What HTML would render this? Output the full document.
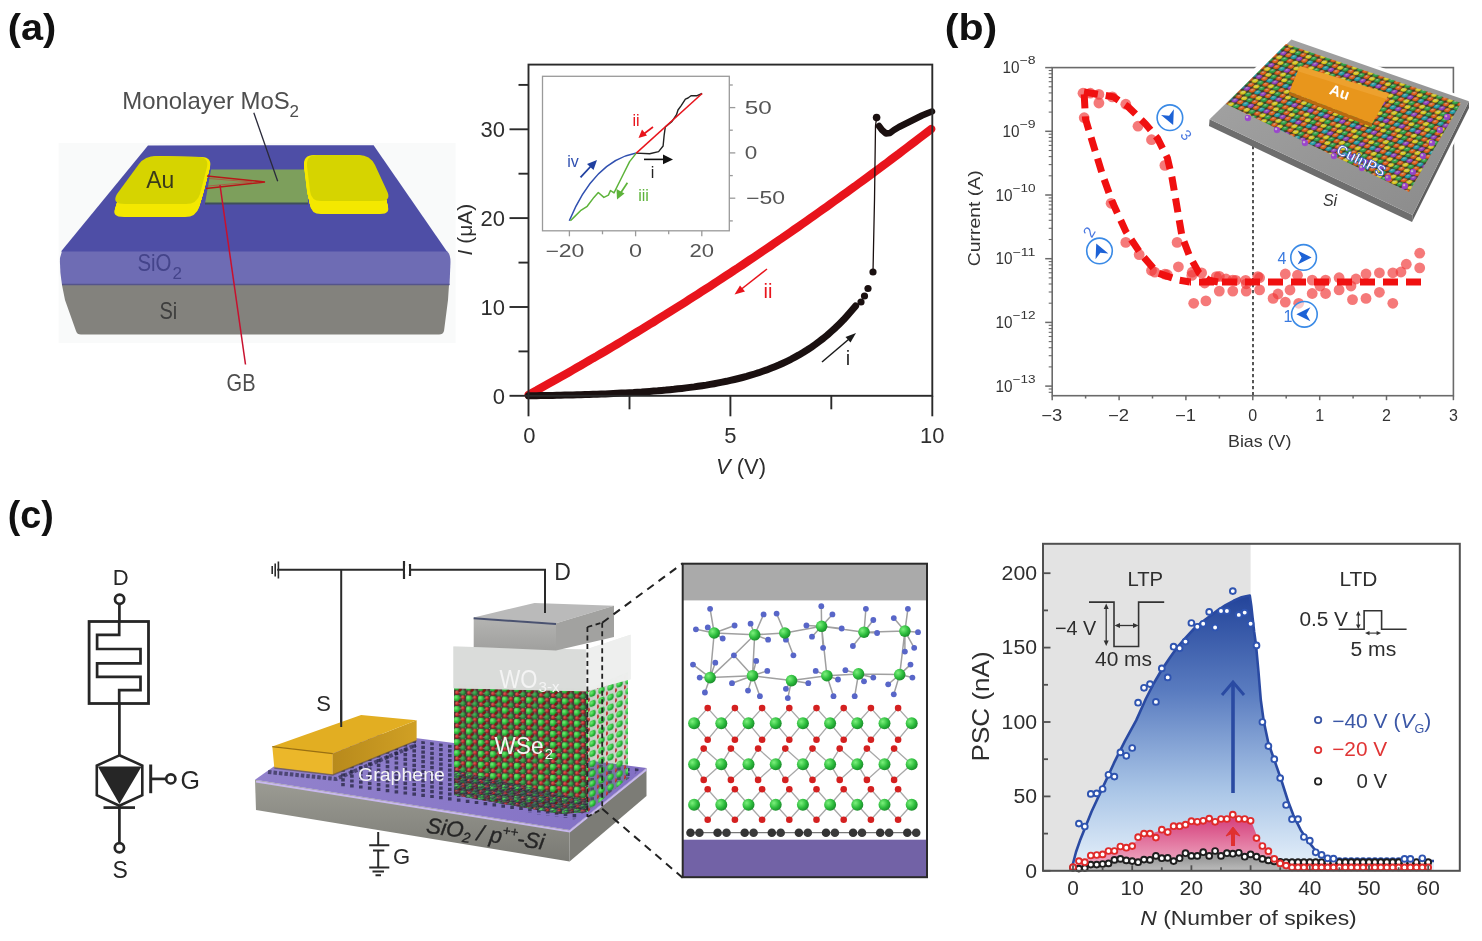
<!DOCTYPE html>
<html><head><meta charset="utf-8"><style>
html,body{margin:0;padding:0;background:#fff;}
svg{display:block;filter:blur(0.4px);}
text{font-family:"Liberation Sans",Arial,sans-serif;}
</style></head><body>
<svg width="1482" height="941" viewBox="0 0 1482 941">
<rect width="1482" height="941" fill="#fff"/>
<text x="7.8" y="40.2" font-size="37.8" fill="#111" textLength="48.5" lengthAdjust="spacingAndGlyphs" font-weight="bold" >(a)</text>
<text x="944.8" y="40.2" font-size="37.8" fill="#111" textLength="52.4" lengthAdjust="spacingAndGlyphs" font-weight="bold" >(b)</text>
<text x="7.8" y="527.5" font-size="39.6" fill="#111" textLength="46" lengthAdjust="spacingAndGlyphs" font-weight="bold" >(c)</text>
<rect x="58.6" y="143" width="397" height="200" fill="#f9fafa"/>
<path d="M62,285 L449,285 L448,300 L444,331 Q443,334.5 439,334.5 L81,334.5 Q77,334.5 76,331 L65,300 Z" fill="#83827d"/>
<path d="M62,251 L447,251 Q450.5,254 450.5,262 L449.5,285 L62,285 Q59.5,270 60,258 Z" fill="#6e6cb4"/>
<line x1="62" y1="284.5" x2="449.5" y2="284.5" stroke="#55548a" stroke-width="1.5"/>
<path d="M148,145.4 L373.6,145.2 L447,251.5 L61,251.5 Z" fill="#4e4ea6"/>
<path d="M211,169.5 L308,169.5 L308,203.5 L205,203.5 Z" fill="#7d9f5c"/>
<line x1="205" y1="203.5" x2="308" y2="203.5" stroke="#3e4e5a" stroke-width="2"/>
<path d="M156,156 L199,157 Q209,157.5 207,167 L200,194 Q197,204 186,204 L125,204 Q111,204 117,194 L139,164 Q145,156 156,156 Z" fill="#f4e800" transform="translate(3.00,0)"/>
<path d="M156,156 L199,157 Q209,157.5 207,167 L200,194 Q197,204 186,204 L125,204 Q111,204 117,194 L139,164 Q145,156 156,156 Z" fill="#f4e800" transform="translate(2.70,1)"/>
<path d="M156,156 L199,157 Q209,157.5 207,167 L200,194 Q197,204 186,204 L125,204 Q111,204 117,194 L139,164 Q145,156 156,156 Z" fill="#f4e800" transform="translate(2.40,2)"/>
<path d="M156,156 L199,157 Q209,157.5 207,167 L200,194 Q197,204 186,204 L125,204 Q111,204 117,194 L139,164 Q145,156 156,156 Z" fill="#f4e800" transform="translate(2.10,3)"/>
<path d="M156,156 L199,157 Q209,157.5 207,167 L200,194 Q197,204 186,204 L125,204 Q111,204 117,194 L139,164 Q145,156 156,156 Z" fill="#f4e800" transform="translate(1.80,4)"/>
<path d="M156,156 L199,157 Q209,157.5 207,167 L200,194 Q197,204 186,204 L125,204 Q111,204 117,194 L139,164 Q145,156 156,156 Z" fill="#f4e800" transform="translate(1.50,5)"/>
<path d="M156,156 L199,157 Q209,157.5 207,167 L200,194 Q197,204 186,204 L125,204 Q111,204 117,194 L139,164 Q145,156 156,156 Z" fill="#f4e800" transform="translate(1.20,6)"/>
<path d="M156,156 L199,157 Q209,157.5 207,167 L200,194 Q197,204 186,204 L125,204 Q111,204 117,194 L139,164 Q145,156 156,156 Z" fill="#f4e800" transform="translate(0.90,7)"/>
<path d="M156,156 L199,157 Q209,157.5 207,167 L200,194 Q197,204 186,204 L125,204 Q111,204 117,194 L139,164 Q145,156 156,156 Z" fill="#f4e800" transform="translate(0.60,8)"/>
<path d="M156,156 L199,157 Q209,157.5 207,167 L200,194 Q197,204 186,204 L125,204 Q111,204 117,194 L139,164 Q145,156 156,156 Z" fill="#f4e800" transform="translate(0.30,9)"/>
<path d="M156,156 L199,157 Q209,157.5 207,167 L200,194 Q197,204 186,204 L125,204 Q111,204 117,194 L139,164 Q145,156 156,156 Z" fill="#f4e800" transform="translate(0.00,10)"/>
<path d="M156,156 L199,157 Q209,157.5 207,167 L200,194 Q197,204 186,204 L125,204 Q111,204 117,194 L139,164 Q145,156 156,156 Z" fill="#f4e800" transform="translate(-0.30,11)"/>
<path d="M156,156 L199,157 Q209,157.5 207,167 L200,194 Q197,204 186,204 L125,204 Q111,204 117,194 L139,164 Q145,156 156,156 Z" fill="#f4e800" transform="translate(-0.60,12)"/>
<path d="M156,156 L199,157 Q209,157.5 207,167 L200,194 Q197,204 186,204 L125,204 Q111,204 117,194 L139,164 Q145,156 156,156 Z" fill="#f4e800" transform="translate(-0.90,13)"/>
<path d="M156,156 L199,157 Q209,157.5 207,167 L200,194 Q197,204 186,204 L125,204 Q111,204 117,194 L139,164 Q145,156 156,156 Z" fill="#d6d400"/>
<path d="M317,155 L359,155 Q370,155 375,165 L387,191 Q392,201 380,201 L321,201 Q311,201 310,191 L307,166 Q306,155 317,155 Z" fill="#f4e800" transform="translate(-3.00,0)"/>
<path d="M317,155 L359,155 Q370,155 375,165 L387,191 Q392,201 380,201 L321,201 Q311,201 310,191 L307,166 Q306,155 317,155 Z" fill="#f4e800" transform="translate(-2.78,1)"/>
<path d="M317,155 L359,155 Q370,155 375,165 L387,191 Q392,201 380,201 L321,201 Q311,201 310,191 L307,166 Q306,155 317,155 Z" fill="#f4e800" transform="translate(-2.56,2)"/>
<path d="M317,155 L359,155 Q370,155 375,165 L387,191 Q392,201 380,201 L321,201 Q311,201 310,191 L307,166 Q306,155 317,155 Z" fill="#f4e800" transform="translate(-2.34,3)"/>
<path d="M317,155 L359,155 Q370,155 375,165 L387,191 Q392,201 380,201 L321,201 Q311,201 310,191 L307,166 Q306,155 317,155 Z" fill="#f4e800" transform="translate(-2.12,4)"/>
<path d="M317,155 L359,155 Q370,155 375,165 L387,191 Q392,201 380,201 L321,201 Q311,201 310,191 L307,166 Q306,155 317,155 Z" fill="#f4e800" transform="translate(-1.90,5)"/>
<path d="M317,155 L359,155 Q370,155 375,165 L387,191 Q392,201 380,201 L321,201 Q311,201 310,191 L307,166 Q306,155 317,155 Z" fill="#f4e800" transform="translate(-1.68,6)"/>
<path d="M317,155 L359,155 Q370,155 375,165 L387,191 Q392,201 380,201 L321,201 Q311,201 310,191 L307,166 Q306,155 317,155 Z" fill="#f4e800" transform="translate(-1.46,7)"/>
<path d="M317,155 L359,155 Q370,155 375,165 L387,191 Q392,201 380,201 L321,201 Q311,201 310,191 L307,166 Q306,155 317,155 Z" fill="#f4e800" transform="translate(-1.24,8)"/>
<path d="M317,155 L359,155 Q370,155 375,165 L387,191 Q392,201 380,201 L321,201 Q311,201 310,191 L307,166 Q306,155 317,155 Z" fill="#f4e800" transform="translate(-1.02,9)"/>
<path d="M317,155 L359,155 Q370,155 375,165 L387,191 Q392,201 380,201 L321,201 Q311,201 310,191 L307,166 Q306,155 317,155 Z" fill="#f4e800" transform="translate(-0.80,10)"/>
<path d="M317,155 L359,155 Q370,155 375,165 L387,191 Q392,201 380,201 L321,201 Q311,201 310,191 L307,166 Q306,155 317,155 Z" fill="#f4e800" transform="translate(-0.58,11)"/>
<path d="M317,155 L359,155 Q370,155 375,165 L387,191 Q392,201 380,201 L321,201 Q311,201 310,191 L307,166 Q306,155 317,155 Z" fill="#f4e800" transform="translate(-0.36,12)"/>
<path d="M317,155 L359,155 Q370,155 375,165 L387,191 Q392,201 380,201 L321,201 Q311,201 310,191 L307,166 Q306,155 317,155 Z" fill="#f4e800" transform="translate(-0.14,13)"/>
<path d="M317,155 L359,155 Q370,155 375,165 L387,191 Q392,201 380,201 L321,201 Q311,201 310,191 L307,166 Q306,155 317,155 Z" fill="#d6d400"/>
<path d="M207,176 L265,182 L206,188.5" fill="none" stroke="#b81818" stroke-width="1.6"/>
<path d="M209,178.5 L252,182 L208,186" fill="none" stroke="#c83030" stroke-width="0.8" opacity="0.7"/>
<line x1="220" y1="185" x2="245.5" y2="364.5" stroke="#c8102e" stroke-width="1.5"/>
<line x1="253.8" y1="112.7" x2="277.7" y2="181.2" stroke="#2a2a3a" stroke-width="1.3"/>
<text x="122.3" y="108.7" font-size="24" fill="#4e4e4e" textLength="167.4" lengthAdjust="spacingAndGlyphs" >Monolayer MoS</text>
<text x="289.5" y="116.5" font-size="17" fill="#4e4e4e" >2</text>
<text x="146.2" y="188.4" font-size="23" fill="#3a3a1a" textLength="28" lengthAdjust="spacingAndGlyphs" >Au</text>
<text x="137.4" y="271.4" font-size="23.6" fill="#44448a" textLength="34" lengthAdjust="spacingAndGlyphs" >SiO</text>
<text x="172.5" y="279.0" font-size="17" fill="#44448a" >2</text>
<text x="159.5" y="319.0" font-size="23.6" fill="#3e3e3e" textLength="17.8" lengthAdjust="spacingAndGlyphs" >Si</text>
<text x="226.6" y="391.3" font-size="23.6" fill="#4e4e4e" textLength="28.9" lengthAdjust="spacingAndGlyphs" >GB</text>
<polyline points="528.5,394.8 532.5,392.6 536.6,390.4 540.6,388.1 544.6,385.9 548.6,383.7 552.7,381.4 556.7,379.1 560.7,376.9 564.8,374.6 568.8,372.3 572.8,370.0 576.8,367.7 580.9,365.4 584.9,363.0 588.9,360.7 592.9,358.3 597.0,356.0 601.0,353.6 605.0,351.3 609.1,348.9 613.1,346.5 617.1,344.1 621.1,341.7 625.2,339.2 629.2,336.8 633.2,334.4 637.3,331.9 641.3,329.5 645.3,327.0 649.3,324.5 653.4,322.1 657.4,319.6 661.4,317.1 665.5,314.6 669.5,312.0 673.5,309.5 677.5,307.0 681.6,304.4 685.6,301.9 689.6,299.3 693.6,296.8 697.7,294.2 701.7,291.6 705.7,289.0 709.8,286.4 713.8,283.8 717.8,281.1 721.8,278.5 725.9,275.8 729.9,273.2 733.9,270.5 738.0,267.9 742.0,265.2 746.0,262.5 750.0,259.8 754.1,257.1 758.1,254.4 762.1,251.6 766.2,248.9 770.2,246.2 774.2,243.4 778.2,240.6 782.3,237.9 786.3,235.1 790.3,232.3 794.3,229.5 798.4,226.7 802.4,223.9 806.4,221.1 810.5,218.2 814.5,215.4 818.5,212.5 822.5,209.7 826.6,206.8 830.6,203.9 834.6,201.0 838.7,198.1 842.7,195.2 846.7,192.3 850.7,189.4 854.8,186.5 858.8,183.5 862.8,180.6 866.9,177.6 870.9,174.6 874.9,171.7 878.9,168.7 883.0,165.7 887.0,162.7 891.0,159.6 895.0,156.6 899.1,153.6 903.1,150.5 907.1,147.5 911.2,144.4 915.2,141.4 919.2,138.3 923.2,135.2 927.3,132.1 931.3,129.0" fill="none" stroke="#e8141c" stroke-width="8.3" stroke-linecap="round"/>
<polyline points="528.5,395.8 532.5,395.7 536.6,395.7 540.6,395.6 544.7,395.5 548.7,395.5 552.7,395.4 556.8,395.3 560.8,395.2 564.8,395.1 568.9,395.0 572.9,394.9 577.0,394.8 581.0,394.7 585.0,394.6 589.1,394.5 593.1,394.3 597.1,394.2 601.2,394.0 605.2,393.9 609.3,393.7 613.3,393.5 617.3,393.3 621.4,393.1 625.4,392.9 629.5,392.7 633.5,392.5 637.5,392.2 641.6,392.0 645.6,391.7 649.6,391.4 653.7,391.1 657.7,390.8 661.8,390.4 665.8,390.1 669.8,389.7 673.9,389.3 677.9,388.8 681.9,388.4 686.0,387.9 690.0,387.4 694.1,386.9 698.1,386.3 702.1,385.7 706.2,385.1 710.2,384.4 714.2,383.7 718.3,382.9 722.3,382.1 726.4,381.3 730.4,380.4 734.4,379.5 738.5,378.5 742.5,377.5 746.6,376.4 750.6,375.2 754.6,374.0 758.7,372.7 762.7,371.3 766.7,369.9 770.8,368.3 774.8,366.7 778.9,365.0 782.9,363.2 786.9,361.3 791.0,359.3 795.0,357.1 799.0,354.9 803.1,352.5 807.1,350.0 811.2,347.3 815.2,344.5 819.2,341.5 823.3,338.4 827.3,335.1 831.3,331.5 835.4,327.8 839.4,323.9 843.5,319.8 847.5,315.4 851.5,310.8 855.6,305.9" fill="none" stroke="#1a1010" stroke-width="7" stroke-linecap="round" stroke-linejoin="round"/>
<circle cx="861" cy="302" r="3.6" fill="#1a1010"/>
<circle cx="864.5" cy="296" r="3.6" fill="#1a1010"/>
<circle cx="868" cy="288.5" r="3.6" fill="#1a1010"/>
<circle cx="873" cy="272" r="3.6" fill="#1a1010"/>
<polyline points="873,272 874.5,200 875.5,126 876.5,118" fill="none" stroke="#1a1010" stroke-width="1.3"/>
<circle cx="876.6" cy="117.6" r="3.8" fill="#1a1010"/>
<polyline points="879.0,126.0 882.0,130.0 886.0,133.5 890.0,133.0 894.0,130.0 899.0,127.0 904.0,124.5 910.0,121.5 916.0,118.5 922.0,115.5 928.0,113.0 932.0,111.5" fill="none" stroke="#1a1010" stroke-width="6.5" stroke-linecap="round" stroke-linejoin="round"/>
<rect x="528.5" y="64.6" width="403.8" height="331.2" fill="none" stroke="#2a2a2a" stroke-width="1.9"/>
<line x1="509.5" y1="395.8" x2="528.5" y2="395.8" stroke="#2a2a2a" stroke-width="1.9"/>
<text x="505.0" y="403.6" font-size="22" fill="#2e2e2e" text-anchor="end" >0</text>
<line x1="518.5" y1="351.4" x2="528.5" y2="351.4" stroke="#2a2a2a" stroke-width="1.9"/>
<line x1="509.5" y1="307.0" x2="528.5" y2="307.0" stroke="#2a2a2a" stroke-width="1.9"/>
<text x="505.0" y="314.8" font-size="22" fill="#2e2e2e" text-anchor="end" >10</text>
<line x1="518.5" y1="262.6" x2="528.5" y2="262.6" stroke="#2a2a2a" stroke-width="1.9"/>
<line x1="509.5" y1="218.1" x2="528.5" y2="218.1" stroke="#2a2a2a" stroke-width="1.9"/>
<text x="505.0" y="225.9" font-size="22" fill="#2e2e2e" text-anchor="end" >20</text>
<line x1="518.5" y1="173.7" x2="528.5" y2="173.7" stroke="#2a2a2a" stroke-width="1.9"/>
<line x1="509.5" y1="129.3" x2="528.5" y2="129.3" stroke="#2a2a2a" stroke-width="1.9"/>
<text x="505.0" y="137.1" font-size="22" fill="#2e2e2e" text-anchor="end" >30</text>
<line x1="518.5" y1="84.9" x2="528.5" y2="84.9" stroke="#2a2a2a" stroke-width="1.9"/>
<line x1="528.5" y1="395.8" x2="528.5" y2="416.3" stroke="#2a2a2a" stroke-width="1.9"/>
<text x="529.3" y="442.6" font-size="22" fill="#2e2e2e" text-anchor="middle" >0</text>
<line x1="629.5" y1="395.8" x2="629.5" y2="409.3" stroke="#2a2a2a" stroke-width="1.9"/>
<line x1="730.4" y1="395.8" x2="730.4" y2="416.3" stroke="#2a2a2a" stroke-width="1.9"/>
<text x="730.4" y="442.6" font-size="22" fill="#2e2e2e" text-anchor="middle" >5</text>
<line x1="831.3" y1="395.8" x2="831.3" y2="409.3" stroke="#2a2a2a" stroke-width="1.9"/>
<line x1="932.3" y1="395.8" x2="932.3" y2="416.3" stroke="#2a2a2a" stroke-width="1.9"/>
<text x="932.3" y="442.6" font-size="22" fill="#2e2e2e" text-anchor="middle" >10</text>
<text x="0.0" y="0.0" font-size="21" fill="#2e2e2e" text-anchor="middle" transform="translate(472,229.6) rotate(-90)"><tspan font-style="italic">I</tspan> (μA)</text>
<text x="741.0" y="474.0" font-size="22" fill="#2e2e2e" text-anchor="middle" ><tspan font-style="italic">V</tspan> (V)</text>
<line x1="822" y1="362" x2="852" y2="336.5" stroke="#1a1a1a" stroke-width="1.5"/><path d="M856,333 L845.5,337 L850.5,342.5 Z" fill="#1a1a1a"/>
<text x="848.0" y="365.0" font-size="20" fill="#2e2e2e" text-anchor="middle" >i</text>
<line x1="767" y1="269" x2="739" y2="291" stroke="#e8141c" stroke-width="1.5"/><path d="M734.5,294.5 L740,285.5 L745,291.5 Z" fill="#e8141c"/>
<text x="768.0" y="297.5" font-size="20" fill="#e8141c" text-anchor="middle" >ii</text>
<rect x="542.5" y="76.3" width="186.79999999999995" height="154.5" fill="#fff" stroke="#9a9a9a" stroke-width="1.3"/>
<line x1="569.4" y1="230.8" x2="569.4" y2="236.3" stroke="#9a9a9a" stroke-width="1.3"/>
<text x="564.9" y="256.5" font-size="17.5" fill="#555" text-anchor="middle" textLength="39" lengthAdjust="spacingAndGlyphs" >−20</text>
<line x1="602.5" y1="230.8" x2="602.5" y2="234.3" stroke="#9a9a9a" stroke-width="1.3"/>
<line x1="635.6" y1="230.8" x2="635.6" y2="236.3" stroke="#9a9a9a" stroke-width="1.3"/>
<text x="635.6" y="256.5" font-size="17.5" fill="#555" text-anchor="middle" textLength="13" lengthAdjust="spacingAndGlyphs" >0</text>
<line x1="668.7" y1="230.8" x2="668.7" y2="234.3" stroke="#9a9a9a" stroke-width="1.3"/>
<line x1="701.8" y1="230.8" x2="701.8" y2="236.3" stroke="#9a9a9a" stroke-width="1.3"/>
<text x="701.8" y="256.5" font-size="17.5" fill="#555" text-anchor="middle" textLength="24.5" lengthAdjust="spacingAndGlyphs" >20</text>
<line x1="729.3" y1="85.0" x2="732.8" y2="85.0" stroke="#9a9a9a" stroke-width="1.3"/>
<line x1="729.3" y1="107.6" x2="735.3" y2="107.6" stroke="#9a9a9a" stroke-width="1.3"/>
<text x="744.8" y="113.8" font-size="17.5" fill="#555" textLength="27" lengthAdjust="spacingAndGlyphs" >50</text>
<line x1="729.3" y1="130.2" x2="732.8" y2="130.2" stroke="#9a9a9a" stroke-width="1.3"/>
<line x1="729.3" y1="152.9" x2="735.3" y2="152.9" stroke="#9a9a9a" stroke-width="1.3"/>
<text x="744.8" y="159.1" font-size="17.5" fill="#555" textLength="12.5" lengthAdjust="spacingAndGlyphs" >0</text>
<line x1="729.3" y1="175.6" x2="732.8" y2="175.6" stroke="#9a9a9a" stroke-width="1.3"/>
<line x1="729.3" y1="198.2" x2="735.3" y2="198.2" stroke="#9a9a9a" stroke-width="1.3"/>
<text x="746.0" y="204.4" font-size="17.5" fill="#555" textLength="39" lengthAdjust="spacingAndGlyphs" >−50</text>
<line x1="729.3" y1="220.9" x2="732.8" y2="220.9" stroke="#9a9a9a" stroke-width="1.3"/>
<path d="M569.3,220.8 C580,195 600,160 636.3,153.1" fill="none" stroke="#3050b0" stroke-width="1.5"/>
<polyline points="636.3,153.1 629.6,161.6 622.9,175.0 618.4,184.0 614.0,192.9 610.5,190.5 608.4,195.1 603.9,197.4 598.3,192.5 593.9,197.4 587.2,206.3 580.5,210.7 573.8,217.4 570.4,220.8" fill="none" stroke="#5db33a" stroke-width="1.5" stroke-linejoin="round"/>
<polyline points="636.3,153.1 649.7,153.8 658.6,151.6 663.1,146.0 664.2,134.8 665.3,127.0 672.0,121.4 676.5,114.7 678.0,110.0 681.0,105.8 685.4,99.1 688.0,98.0 691.0,95.8 696.6,95.8 702.1,93.5" fill="none" stroke="#222" stroke-width="1.4" stroke-linejoin="round"/>
<line x1="636.3" y1="153.1" x2="702.1" y2="93.5" stroke="#e8141c" stroke-width="1.5"/>
<line x1="653" y1="127" x2="643" y2="134.5" stroke="#e8141c" stroke-width="1.6"/><path d="M638.5,138 L642,129.5 L647,135.5 Z" fill="#e8141c"/>
<text x="636.0" y="126.0" font-size="16" fill="#e8141c" text-anchor="middle" >ii</text>
<line x1="580.5" y1="177.3" x2="592" y2="165" stroke="#2040a0" stroke-width="1.8"/><path d="M597,160 L587,164 L593.5,170 Z" fill="#2040a0"/>
<text x="573.0" y="166.5" font-size="16" fill="#3050b0" text-anchor="middle" >iv</text>
<line x1="644" y1="159.4" x2="667" y2="159.4" stroke="#111" stroke-width="1.6"/><path d="M673,159.4 L663,154.5 L663,164.3 Z" fill="#111"/>
<text x="652.5" y="177.5" font-size="16" fill="#222" text-anchor="middle" >i</text>
<line x1="627.4" y1="182.8" x2="620" y2="194" stroke="#5db33a" stroke-width="1.7"/><path d="M617,199.6 L616.5,189 L624.5,193.5 Z" fill="#5db33a"/>
<text x="643.5" y="200.5" font-size="16" fill="#5db33a" text-anchor="middle" >iii</text>
<rect x="1052.2" y="67.6" width="401.2" height="328.1" fill="none" stroke="#6a6a6a" stroke-width="1.6"/>
<line x1="1045.2" y1="67.6" x2="1052.2" y2="67.6" stroke="#6a6a6a" stroke-width="1.5"/>
<text x="1019.5" y="73.2" font-size="16" fill="#333" text-anchor="end" textLength="17" lengthAdjust="spacingAndGlyphs" >10</text>
<text x="1019.5" y="64.4" font-size="11" fill="#333" textLength="16" lengthAdjust="spacingAndGlyphs" >−8</text>
<line x1="1045.2" y1="131.3" x2="1052.2" y2="131.3" stroke="#6a6a6a" stroke-width="1.5"/>
<line x1="1048.7" y1="112.1" x2="1052.2" y2="112.1" stroke="#6a6a6a" stroke-width="1.1"/>
<line x1="1048.7" y1="100.9" x2="1052.2" y2="100.9" stroke="#6a6a6a" stroke-width="1.1"/>
<line x1="1048.7" y1="92.9" x2="1052.2" y2="92.9" stroke="#6a6a6a" stroke-width="1.1"/>
<line x1="1048.7" y1="86.8" x2="1052.2" y2="86.8" stroke="#6a6a6a" stroke-width="1.1"/>
<line x1="1048.7" y1="81.7" x2="1052.2" y2="81.7" stroke="#6a6a6a" stroke-width="1.1"/>
<line x1="1048.7" y1="77.5" x2="1052.2" y2="77.5" stroke="#6a6a6a" stroke-width="1.1"/>
<line x1="1048.7" y1="73.8" x2="1052.2" y2="73.8" stroke="#6a6a6a" stroke-width="1.1"/>
<line x1="1048.7" y1="70.5" x2="1052.2" y2="70.5" stroke="#6a6a6a" stroke-width="1.1"/>
<text x="1019.5" y="136.9" font-size="16" fill="#333" text-anchor="end" textLength="17" lengthAdjust="spacingAndGlyphs" >10</text>
<text x="1019.5" y="128.1" font-size="11" fill="#333" textLength="16" lengthAdjust="spacingAndGlyphs" >−9</text>
<line x1="1045.2" y1="195.0" x2="1052.2" y2="195.0" stroke="#6a6a6a" stroke-width="1.5"/>
<line x1="1048.7" y1="175.8" x2="1052.2" y2="175.8" stroke="#6a6a6a" stroke-width="1.1"/>
<line x1="1048.7" y1="164.6" x2="1052.2" y2="164.6" stroke="#6a6a6a" stroke-width="1.1"/>
<line x1="1048.7" y1="156.6" x2="1052.2" y2="156.6" stroke="#6a6a6a" stroke-width="1.1"/>
<line x1="1048.7" y1="150.5" x2="1052.2" y2="150.5" stroke="#6a6a6a" stroke-width="1.1"/>
<line x1="1048.7" y1="145.4" x2="1052.2" y2="145.4" stroke="#6a6a6a" stroke-width="1.1"/>
<line x1="1048.7" y1="141.2" x2="1052.2" y2="141.2" stroke="#6a6a6a" stroke-width="1.1"/>
<line x1="1048.7" y1="137.5" x2="1052.2" y2="137.5" stroke="#6a6a6a" stroke-width="1.1"/>
<line x1="1048.7" y1="134.2" x2="1052.2" y2="134.2" stroke="#6a6a6a" stroke-width="1.1"/>
<text x="1012.5" y="200.6" font-size="16" fill="#333" text-anchor="end" textLength="17" lengthAdjust="spacingAndGlyphs" >10</text>
<text x="1012.5" y="191.8" font-size="11" fill="#333" textLength="23" lengthAdjust="spacingAndGlyphs" >−10</text>
<line x1="1045.2" y1="258.7" x2="1052.2" y2="258.7" stroke="#6a6a6a" stroke-width="1.5"/>
<line x1="1048.7" y1="239.5" x2="1052.2" y2="239.5" stroke="#6a6a6a" stroke-width="1.1"/>
<line x1="1048.7" y1="228.3" x2="1052.2" y2="228.3" stroke="#6a6a6a" stroke-width="1.1"/>
<line x1="1048.7" y1="220.3" x2="1052.2" y2="220.3" stroke="#6a6a6a" stroke-width="1.1"/>
<line x1="1048.7" y1="214.2" x2="1052.2" y2="214.2" stroke="#6a6a6a" stroke-width="1.1"/>
<line x1="1048.7" y1="209.1" x2="1052.2" y2="209.1" stroke="#6a6a6a" stroke-width="1.1"/>
<line x1="1048.7" y1="204.9" x2="1052.2" y2="204.9" stroke="#6a6a6a" stroke-width="1.1"/>
<line x1="1048.7" y1="201.2" x2="1052.2" y2="201.2" stroke="#6a6a6a" stroke-width="1.1"/>
<line x1="1048.7" y1="197.9" x2="1052.2" y2="197.9" stroke="#6a6a6a" stroke-width="1.1"/>
<text x="1012.5" y="264.3" font-size="16" fill="#333" text-anchor="end" textLength="17" lengthAdjust="spacingAndGlyphs" >10</text>
<text x="1012.5" y="255.5" font-size="11" fill="#333" textLength="23" lengthAdjust="spacingAndGlyphs" >−11</text>
<line x1="1045.2" y1="322.4" x2="1052.2" y2="322.4" stroke="#6a6a6a" stroke-width="1.5"/>
<line x1="1048.7" y1="303.2" x2="1052.2" y2="303.2" stroke="#6a6a6a" stroke-width="1.1"/>
<line x1="1048.7" y1="292.0" x2="1052.2" y2="292.0" stroke="#6a6a6a" stroke-width="1.1"/>
<line x1="1048.7" y1="284.0" x2="1052.2" y2="284.0" stroke="#6a6a6a" stroke-width="1.1"/>
<line x1="1048.7" y1="277.9" x2="1052.2" y2="277.9" stroke="#6a6a6a" stroke-width="1.1"/>
<line x1="1048.7" y1="272.8" x2="1052.2" y2="272.8" stroke="#6a6a6a" stroke-width="1.1"/>
<line x1="1048.7" y1="268.6" x2="1052.2" y2="268.6" stroke="#6a6a6a" stroke-width="1.1"/>
<line x1="1048.7" y1="264.9" x2="1052.2" y2="264.9" stroke="#6a6a6a" stroke-width="1.1"/>
<line x1="1048.7" y1="261.6" x2="1052.2" y2="261.6" stroke="#6a6a6a" stroke-width="1.1"/>
<text x="1012.5" y="328.0" font-size="16" fill="#333" text-anchor="end" textLength="17" lengthAdjust="spacingAndGlyphs" >10</text>
<text x="1012.5" y="319.2" font-size="11" fill="#333" textLength="23" lengthAdjust="spacingAndGlyphs" >−12</text>
<line x1="1045.2" y1="386.1" x2="1052.2" y2="386.1" stroke="#6a6a6a" stroke-width="1.5"/>
<line x1="1048.7" y1="366.9" x2="1052.2" y2="366.9" stroke="#6a6a6a" stroke-width="1.1"/>
<line x1="1048.7" y1="355.7" x2="1052.2" y2="355.7" stroke="#6a6a6a" stroke-width="1.1"/>
<line x1="1048.7" y1="347.7" x2="1052.2" y2="347.7" stroke="#6a6a6a" stroke-width="1.1"/>
<line x1="1048.7" y1="341.6" x2="1052.2" y2="341.6" stroke="#6a6a6a" stroke-width="1.1"/>
<line x1="1048.7" y1="336.5" x2="1052.2" y2="336.5" stroke="#6a6a6a" stroke-width="1.1"/>
<line x1="1048.7" y1="332.3" x2="1052.2" y2="332.3" stroke="#6a6a6a" stroke-width="1.1"/>
<line x1="1048.7" y1="328.6" x2="1052.2" y2="328.6" stroke="#6a6a6a" stroke-width="1.1"/>
<line x1="1048.7" y1="325.3" x2="1052.2" y2="325.3" stroke="#6a6a6a" stroke-width="1.1"/>
<text x="1012.5" y="391.7" font-size="16" fill="#333" text-anchor="end" textLength="17" lengthAdjust="spacingAndGlyphs" >10</text>
<text x="1012.5" y="382.9" font-size="11" fill="#333" textLength="23" lengthAdjust="spacingAndGlyphs" >−13</text>
<line x1="1048.7" y1="392.3" x2="1052.2" y2="392.3" stroke="#6a6a6a" stroke-width="1.1"/>
<line x1="1048.7" y1="389.0" x2="1052.2" y2="389.0" stroke="#6a6a6a" stroke-width="1.1"/>
<line x1="1052.2" y1="395.7" x2="1052.2" y2="400.2" stroke="#6a6a6a" stroke-width="1.5"/>
<text x="1051.7" y="420.8" font-size="16" fill="#333" text-anchor="middle" textLength="21" lengthAdjust="spacingAndGlyphs" >−3</text>
<line x1="1085.6" y1="395.7" x2="1085.6" y2="398.5" stroke="#6a6a6a" stroke-width="1.5"/>
<line x1="1119.1" y1="395.7" x2="1119.1" y2="400.2" stroke="#6a6a6a" stroke-width="1.5"/>
<text x="1118.6" y="420.8" font-size="16" fill="#333" text-anchor="middle" textLength="21" lengthAdjust="spacingAndGlyphs" >−2</text>
<line x1="1152.5" y1="395.7" x2="1152.5" y2="398.5" stroke="#6a6a6a" stroke-width="1.5"/>
<line x1="1185.9" y1="395.7" x2="1185.9" y2="400.2" stroke="#6a6a6a" stroke-width="1.5"/>
<text x="1185.4" y="420.8" font-size="16" fill="#333" text-anchor="middle" textLength="21" lengthAdjust="spacingAndGlyphs" >−1</text>
<line x1="1219.4" y1="395.7" x2="1219.4" y2="398.5" stroke="#6a6a6a" stroke-width="1.5"/>
<line x1="1252.8" y1="395.7" x2="1252.8" y2="400.2" stroke="#6a6a6a" stroke-width="1.5"/>
<text x="1252.8" y="420.8" font-size="16" fill="#333" text-anchor="middle" >0</text>
<line x1="1286.2" y1="395.7" x2="1286.2" y2="398.5" stroke="#6a6a6a" stroke-width="1.5"/>
<line x1="1319.7" y1="395.7" x2="1319.7" y2="400.2" stroke="#6a6a6a" stroke-width="1.5"/>
<text x="1319.7" y="420.8" font-size="16" fill="#333" text-anchor="middle" >1</text>
<line x1="1353.1" y1="395.7" x2="1353.1" y2="398.5" stroke="#6a6a6a" stroke-width="1.5"/>
<line x1="1386.5" y1="395.7" x2="1386.5" y2="400.2" stroke="#6a6a6a" stroke-width="1.5"/>
<text x="1386.5" y="420.8" font-size="16" fill="#333" text-anchor="middle" >2</text>
<line x1="1420.0" y1="395.7" x2="1420.0" y2="398.5" stroke="#6a6a6a" stroke-width="1.5"/>
<line x1="1453.4" y1="395.7" x2="1453.4" y2="400.2" stroke="#6a6a6a" stroke-width="1.5"/>
<text x="1453.4" y="420.8" font-size="16" fill="#333" text-anchor="middle" >3</text>
<text x="0.0" y="0.0" font-size="17" fill="#333" text-anchor="middle" textLength="96" lengthAdjust="spacingAndGlyphs" transform="translate(979.6,218.3) rotate(-90)">Current (A)</text>
<text x="1259.7" y="446.9" font-size="17" fill="#333" text-anchor="middle" textLength="63.4" lengthAdjust="spacingAndGlyphs" >Bias (V)</text>
<line x1="1253" y1="140" x2="1253" y2="395" stroke="#444" stroke-width="1.8" stroke-dasharray="3.2,2.8"/>
<circle cx="1083.0" cy="93.2" r="5.4" fill="#f03a3a" fill-opacity="0.68"/>
<circle cx="1090.3" cy="93.2" r="5.4" fill="#f03a3a" fill-opacity="0.68"/>
<circle cx="1098.9" cy="94.4" r="5.4" fill="#f03a3a" fill-opacity="0.68"/>
<circle cx="1112.3" cy="96.9" r="5.4" fill="#f03a3a" fill-opacity="0.68"/>
<circle cx="1125.8" cy="104.2" r="5.4" fill="#f03a3a" fill-opacity="0.68"/>
<circle cx="1098.9" cy="103.0" r="5.4" fill="#f03a3a" fill-opacity="0.68"/>
<circle cx="1084.2" cy="117.7" r="5.4" fill="#f03a3a" fill-opacity="0.68"/>
<circle cx="1138.0" cy="126.2" r="5.4" fill="#f03a3a" fill-opacity="0.68"/>
<circle cx="1151.5" cy="139.7" r="5.4" fill="#f03a3a" fill-opacity="0.68"/>
<circle cx="1164.9" cy="165.4" r="5.4" fill="#f03a3a" fill-opacity="0.68"/>
<circle cx="1111.1" cy="203.3" r="5.4" fill="#f03a3a" fill-opacity="0.68"/>
<circle cx="1125.8" cy="242.4" r="5.4" fill="#f03a3a" fill-opacity="0.68"/>
<circle cx="1139.2" cy="254.6" r="5.4" fill="#f03a3a" fill-opacity="0.68"/>
<circle cx="1151.5" cy="270.5" r="5.4" fill="#f03a3a" fill-opacity="0.68"/>
<circle cx="1164.9" cy="274.2" r="5.4" fill="#f03a3a" fill-opacity="0.68"/>
<circle cx="1178.4" cy="266.8" r="5.4" fill="#f03a3a" fill-opacity="0.68"/>
<circle cx="1177.1" cy="242.4" r="5.4" fill="#f03a3a" fill-opacity="0.68"/>
<circle cx="1191.8" cy="275.4" r="5.4" fill="#f03a3a" fill-opacity="0.68"/>
<circle cx="1201.6" cy="272.9" r="5.4" fill="#f03a3a" fill-opacity="0.68"/>
<circle cx="1216.3" cy="276.6" r="5.4" fill="#f03a3a" fill-opacity="0.68"/>
<circle cx="1226.0" cy="279.0" r="5.4" fill="#f03a3a" fill-opacity="0.68"/>
<circle cx="1235.8" cy="280.3" r="5.4" fill="#f03a3a" fill-opacity="0.68"/>
<circle cx="1245.6" cy="280.3" r="5.4" fill="#f03a3a" fill-opacity="0.68"/>
<circle cx="1257.8" cy="276.6" r="5.4" fill="#f03a3a" fill-opacity="0.68"/>
<circle cx="1193.7" cy="303.3" r="5.4" fill="#f03a3a" fill-opacity="0.68"/>
<circle cx="1205.9" cy="300.9" r="5.4" fill="#f03a3a" fill-opacity="0.68"/>
<circle cx="1219.3" cy="276.4" r="5.4" fill="#f03a3a" fill-opacity="0.68"/>
<circle cx="1232.8" cy="280.1" r="5.4" fill="#f03a3a" fill-opacity="0.68"/>
<circle cx="1246.2" cy="283.8" r="5.4" fill="#f03a3a" fill-opacity="0.68"/>
<circle cx="1219.3" cy="291.1" r="5.4" fill="#f03a3a" fill-opacity="0.68"/>
<circle cx="1232.8" cy="291.1" r="5.4" fill="#f03a3a" fill-opacity="0.68"/>
<circle cx="1246.2" cy="291.1" r="5.4" fill="#f03a3a" fill-opacity="0.68"/>
<circle cx="1259.6" cy="277.7" r="5.4" fill="#f03a3a" fill-opacity="0.68"/>
<circle cx="1259.6" cy="289.9" r="5.4" fill="#f03a3a" fill-opacity="0.68"/>
<circle cx="1273.1" cy="298.4" r="5.4" fill="#f03a3a" fill-opacity="0.68"/>
<circle cx="1285.3" cy="274.0" r="5.4" fill="#f03a3a" fill-opacity="0.68"/>
<circle cx="1285.3" cy="302.1" r="5.4" fill="#f03a3a" fill-opacity="0.68"/>
<circle cx="1297.5" cy="275.2" r="5.4" fill="#f03a3a" fill-opacity="0.68"/>
<circle cx="1298.7" cy="303.3" r="5.4" fill="#f03a3a" fill-opacity="0.68"/>
<circle cx="1312.2" cy="280.1" r="5.4" fill="#f03a3a" fill-opacity="0.68"/>
<circle cx="1312.2" cy="293.5" r="5.4" fill="#f03a3a" fill-opacity="0.68"/>
<circle cx="1325.6" cy="280.1" r="5.4" fill="#f03a3a" fill-opacity="0.68"/>
<circle cx="1325.6" cy="293.5" r="5.4" fill="#f03a3a" fill-opacity="0.68"/>
<circle cx="1339.1" cy="277.7" r="5.4" fill="#f03a3a" fill-opacity="0.68"/>
<circle cx="1339.1" cy="289.9" r="5.4" fill="#f03a3a" fill-opacity="0.68"/>
<circle cx="1352.5" cy="299.6" r="5.4" fill="#f03a3a" fill-opacity="0.68"/>
<circle cx="1366.0" cy="274.0" r="5.4" fill="#f03a3a" fill-opacity="0.68"/>
<circle cx="1366.0" cy="298.4" r="5.4" fill="#f03a3a" fill-opacity="0.68"/>
<circle cx="1379.4" cy="272.8" r="5.4" fill="#f03a3a" fill-opacity="0.68"/>
<circle cx="1379.4" cy="292.3" r="5.4" fill="#f03a3a" fill-opacity="0.68"/>
<circle cx="1392.8" cy="272.8" r="5.4" fill="#f03a3a" fill-opacity="0.68"/>
<circle cx="1392.8" cy="303.3" r="5.4" fill="#f03a3a" fill-opacity="0.68"/>
<circle cx="1406.3" cy="264.2" r="5.4" fill="#f03a3a" fill-opacity="0.68"/>
<circle cx="1419.7" cy="253.2" r="5.4" fill="#f03a3a" fill-opacity="0.68"/>
<circle cx="1419.7" cy="267.9" r="5.4" fill="#f03a3a" fill-opacity="0.68"/>
<circle cx="1154.8" cy="272.2" r="5.4" fill="#f03a3a" fill-opacity="0.68"/>
<circle cx="1167.3" cy="274.7" r="5.4" fill="#f03a3a" fill-opacity="0.68"/>
<circle cx="1192.2" cy="272.2" r="5.4" fill="#f03a3a" fill-opacity="0.68"/>
<circle cx="1204.7" cy="283.0" r="5.4" fill="#f03a3a" fill-opacity="0.68"/>
<circle cx="1278.0" cy="294.0" r="5.4" fill="#f03a3a" fill-opacity="0.68"/>
<circle cx="1290.0" cy="290.0" r="5.4" fill="#f03a3a" fill-opacity="0.68"/>
<circle cx="1351.0" cy="286.0" r="5.4" fill="#f03a3a" fill-opacity="0.68"/>
<circle cx="1356.0" cy="279.0" r="5.4" fill="#f03a3a" fill-opacity="0.68"/>
<circle cx="1401.0" cy="272.0" r="5.4" fill="#f03a3a" fill-opacity="0.68"/>
<circle cx="1320.0" cy="286.0" r="5.4" fill="#f03a3a" fill-opacity="0.68"/>
<polyline points="1084.2,94.4 1085.5,118.9 1092.8,143.3 1102.6,175.1 1112.3,202.0 1125.8,231.4 1140.5,253.4 1157.6,273.0 1179.6,280.3 1190.0,282.0" fill="none" stroke="#f01010" stroke-width="7" stroke-dasharray="14,8"/>
<polyline points="1084.0,92.0 1099.0,94.4 1113.6,96.9 1128.0,106.7 1145.4,123.8 1157.6,138.5 1167.4,158.0 1172.0,177.6 1177.0,207.0 1182.0,236.3 1189.4,255.8 1199.0,273.0 1209.0,280.3 1218.0,282.0" fill="none" stroke="#f01010" stroke-width="7" stroke-dasharray="14,8"/>
<line x1="1421" y1="282" x2="1190" y2="282" stroke="#f01010" stroke-width="7" stroke-dasharray="15,8"/>
<g transform="translate(1304.4,314.3)"><circle r="12.8" fill="#fff" fill-opacity="0.6" stroke="#3a8ae6" stroke-width="1.6"/><path d="M8,0 L-6,-7 L-2,0 L-6,7 Z" fill="#1d62d6" transform="rotate(180)"/></g>
<text x="1288.0" y="321.5" font-size="16" fill="#3a7ae0" text-anchor="middle" >1</text>
<g transform="translate(1303.6,257.4)"><circle r="12.8" fill="#fff" fill-opacity="0.6" stroke="#3a8ae6" stroke-width="1.6"/><path d="M8,0 L-6,-7 L-2,0 L-6,7 Z" fill="#1d62d6" transform="rotate(0)"/></g>
<text x="1282.0" y="263.5" font-size="16" fill="#3a7ae0" text-anchor="middle" >4</text>
<g transform="translate(1099.5,250.9)"><circle r="12.8" fill="#fff" fill-opacity="0.6" stroke="#3a8ae6" stroke-width="1.6"/><path d="M8,0 L-6,-7 L-2,0 L-6,7 Z" fill="#1d62d6" transform="rotate(-114)"/></g>
<text x="0.0" y="0.0" font-size="16" fill="#4a78e0" text-anchor="middle" transform="translate(1094,235) rotate(-60)">2</text>
<g transform="translate(1169.9,117.7)"><circle r="12.8" fill="#fff" fill-opacity="0.6" stroke="#3a8ae6" stroke-width="1.6"/><path d="M8,0 L-6,-7 L-2,0 L-6,7 Z" fill="#1d62d6" transform="rotate(66)"/></g>
<text x="0.0" y="0.0" font-size="15" fill="#4a78e0" text-anchor="middle" transform="translate(1186.5,135) rotate(50) translate(0,5.5)">3</text>
<polygon points="1290,35 1476,101 1412.6,224 1200,120" fill="#fff"/>
<defs><linearGradient id="slabT" x1="0" y1="0" x2="1" y2="1"><stop offset="0" stop-color="#a6a6a6"/><stop offset="1" stop-color="#8a8a8a"/></linearGradient><radialGradient id="ato" cx="0.35" cy="0.35" r="0.75"><stop offset="0" stop-color="#fff" stop-opacity="0.55"/><stop offset="0.35" stop-color="#f0641a"/><stop offset="1" stop-color="#f0641a" stop-opacity="0.75"/></radialGradient><radialGradient id="aty" cx="0.35" cy="0.35" r="0.75"><stop offset="0" stop-color="#fff" stop-opacity="0.55"/><stop offset="0.35" stop-color="#e8d820"/><stop offset="1" stop-color="#e8d820" stop-opacity="0.75"/></radialGradient><radialGradient id="atg" cx="0.35" cy="0.35" r="0.75"><stop offset="0" stop-color="#fff" stop-opacity="0.55"/><stop offset="0.35" stop-color="#2fae4a"/><stop offset="1" stop-color="#2fae4a" stop-opacity="0.75"/></radialGradient><radialGradient id="att" cx="0.35" cy="0.35" r="0.75"><stop offset="0" stop-color="#fff" stop-opacity="0.55"/><stop offset="0.35" stop-color="#1fa8b4"/><stop offset="1" stop-color="#1fa8b4" stop-opacity="0.75"/></radialGradient><radialGradient id="atp" cx="0.35" cy="0.35" r="0.75"><stop offset="0" stop-color="#fff" stop-opacity="0.55"/><stop offset="0.35" stop-color="#9a40d0"/><stop offset="1" stop-color="#9a40d0" stop-opacity="0.75"/></radialGradient><pattern id="atoms" width="16.8" height="16.8" patternUnits="userSpaceOnUse" patternTransform="matrix(0.945,0.327,-0.72,0.7,0,0)"><rect width="16.8" height="16.8" fill="#3c3a26"/><circle cx="2.8" cy="2.8" r="2.6" fill="url(#ato)"/><circle cx="8.399999999999999" cy="2.8" r="2.6" fill="url(#aty)"/><circle cx="14.0" cy="2.8" r="2.6" fill="url(#atg)"/><circle cx="2.8" cy="8.399999999999999" r="2.6" fill="url(#atp)"/><circle cx="8.399999999999999" cy="8.399999999999999" r="2.6" fill="url(#ato)"/><circle cx="14.0" cy="8.399999999999999" r="2.6" fill="url(#att)"/><circle cx="2.8" cy="14.0" r="2.6" fill="url(#aty)"/><circle cx="8.399999999999999" cy="14.0" r="2.6" fill="url(#atg)"/><circle cx="14.0" cy="14.0" r="2.6" fill="url(#ato)"/></pattern></defs>
<polygon points="1209.6,119.3 1412.6,215 1412,222 1209,126" fill="#6e6e6e"/>
<polygon points="1412.6,215 1468.9,101.2 1469,108 1412,222" fill="#5e5e5e"/>
<polygon points="1291.4,39.6 1468.9,101.2 1412.6,215 1209.6,119.3" fill="url(#slabT)"/>
<polygon points="1286,44 1461,103 1409,192 1226,104" fill="#b8a040" opacity="0.35"/>
<polygon points="1286,44 1461,103 1409,192 1226,104" fill="url(#atoms)"/>
<circle cx="1248" cy="118" r="3.2" fill="url(#atp)"/>
<circle cx="1277" cy="130" r="3.2" fill="url(#atp)"/>
<circle cx="1305" cy="143" r="3.2" fill="url(#atp)"/>
<circle cx="1334" cy="156" r="3.2" fill="url(#atp)"/>
<circle cx="1362" cy="168" r="3.2" fill="url(#atp)"/>
<circle cx="1388" cy="178" r="3.2" fill="url(#atp)"/>
<circle cx="1405" cy="186" r="3.2" fill="url(#atp)"/>
<circle cx="1440" cy="130" r="3.2" fill="url(#atp)"/>
<circle cx="1447" cy="117" r="3.2" fill="url(#atp)"/>
<circle cx="1432" cy="143" r="3.2" fill="url(#atp)"/>
<circle cx="1423" cy="156" r="3.2" fill="url(#atp)"/>
<circle cx="1413" cy="172" r="3.2" fill="url(#atp)"/>
<polygon points="1289.3,91.6 1372.2,123.5 1371.5,127 1289,95" fill="#b86a10"/>
<polygon points="1299.9,66.1 1389.2,93.8 1372.2,123.5 1289.3,91.6" fill="#e8961c"/>
<polygon points="1299.9,66.1 1389.2,93.8 1386,99 1297,71" fill="#f0a83a" opacity="0.6"/>
<text x="0.0" y="0.0" font-size="15" fill="#fff" text-anchor="middle" font-weight="bold" transform="translate(1338,97) rotate(19)">Au</text>
<text x="0.0" y="0.0" font-size="15" fill="#fff" text-anchor="middle" font-weight="bold" transform="translate(1359,165) rotate(27)" stroke="#3a5ad0" stroke-width="0.7">CuInPS</text>
<text x="1330.0" y="206.0" font-size="16" fill="#333" text-anchor="middle" font-style="italic" >Si</text>
<text x="120.6" y="585.2" font-size="22" fill="#262626" text-anchor="middle" >D</text>
<circle cx="119.6" cy="599.2" r="4.6" fill="#fff" stroke="#262626" stroke-width="2.7"/>
<line x1="119.4" y1="604.5" x2="119.4" y2="621.5" stroke="#262626" stroke-width="2.7"/>
<rect x="89.1" y="621.5" width="59.4" height="82" fill="none" stroke="#262626" stroke-width="2.8"/>
<path d="M119.2,621.5 V634.9 H97.1 V649 H140.5 V663.3 H97.1 V676.9 H140.5 V690.1 H119.2 V703.5" fill="none" stroke="#262626" stroke-width="2.7"/>
<line x1="119.4" y1="703.5" x2="119.4" y2="755.5" stroke="#262626" stroke-width="2.7"/>
<polygon points="119.4,755.3 142.3,765.5 142.3,795.1 119.4,805.7 96.8,795.1 96.8,765.5" fill="none" stroke="#262626" stroke-width="2.6"/>
<polygon points="97.8,766.4 141.6,766.4 119.4,804" fill="#262626"/>
<line x1="103.5" y1="807.6" x2="135" y2="807.6" stroke="#262626" stroke-width="2.7"/>
<line x1="119.4" y1="805.7" x2="119.4" y2="842.5" stroke="#262626" stroke-width="2.7"/>
<circle cx="119.4" cy="847.7" r="4.6" fill="#fff" stroke="#262626" stroke-width="2.7"/>
<text x="120.2" y="878.4" font-size="23" fill="#262626" text-anchor="middle" >S</text>
<line x1="150.7" y1="764.5" x2="150.7" y2="793.2" stroke="#262626" stroke-width="3"/>
<line x1="150.7" y1="778.9" x2="165.8" y2="778.9" stroke="#262626" stroke-width="2.7"/>
<circle cx="170.8" cy="778.9" r="4.6" fill="#fff" stroke="#262626" stroke-width="2.7"/>
<text x="180.5" y="788.5" font-size="25" fill="#262626" >G</text>
<defs>
<linearGradient id="slabF" x1="0" y1="0" x2="0" y2="1"><stop offset="0" stop-color="#9c9c94"/><stop offset="1" stop-color="#7a7a74"/></linearGradient>
<linearGradient id="slabTop" x1="0" y1="0" x2="1" y2="0"><stop offset="0" stop-color="#9282cc"/><stop offset="1" stop-color="#8270c4"/></linearGradient>
<linearGradient id="goldR" x1="0" y1="0" x2="1" y2="0"><stop offset="0" stop-color="#b88a1c"/><stop offset="1" stop-color="#d0a024"/></linearGradient>
<linearGradient id="grayF" x1="0" y1="0" x2="0" y2="1"><stop offset="0" stop-color="#b4b4b2"/><stop offset="1" stop-color="#a0a09e"/></linearGradient>
<radialGradient id="gS" cx="0.35" cy="0.35" r="0.7"><stop offset="0" stop-color="#7cf07c"/><stop offset="0.6" stop-color="#2cbc3c"/><stop offset="1" stop-color="#1a8a2a"/></radialGradient>
<radialGradient id="rS" cx="0.35" cy="0.35" r="0.7"><stop offset="0" stop-color="#f06060"/><stop offset="1" stop-color="#a01010"/></radialGradient>
<radialGradient id="kS" cx="0.35" cy="0.35" r="0.7"><stop offset="0" stop-color="#5a5a7a"/><stop offset="1" stop-color="#12122a"/></radialGradient>
<pattern id="graph" width="7" height="6" patternUnits="userSpaceOnUse" patternTransform="matrix(1,0.16,-0.75,0.6,0,0)">
<circle cx="2" cy="2" r="2.6" fill="url(#kS)"/><circle cx="5.5" cy="5" r="2.2" fill="url(#kS)"/></pattern>
<radialGradient id="gS2" cx="0.35" cy="0.35" r="0.7"><stop offset="0" stop-color="#50c060"/><stop offset="1" stop-color="#1a6a2a"/></radialGradient>
<pattern id="wse" width="12" height="11" patternUnits="userSpaceOnUse" patternTransform="matrix(1,0.03,0,1,454,684)">
<rect width="12" height="11" fill="#4a3c36"/>
<path d="M3,3 L9,2 L9,8.5 L3,8.5 Z M3,3 L0,5.5 M9,8.5 L12,11" stroke="#d8b8b8" stroke-width="0.6" fill="none" opacity="0.8"/>
<circle cx="9" cy="8.5" r="2.7" fill="url(#gS2)"/>
<circle cx="3" cy="3" r="3.3" fill="url(#gS)"/>
<circle cx="9" cy="2" r="2" fill="url(#rS)"/><circle cx="3" cy="8.5" r="2" fill="url(#rS)"/><circle cx="6" cy="5.8" r="1.5" fill="#8a1010"/></pattern>
<pattern id="wse2" width="9" height="10" patternUnits="userSpaceOnUse" patternTransform="matrix(1,-0.35,0,1,588,690)">
<circle cx="4.5" cy="5" r="3.3" fill="url(#gS)"/><circle cx="0" cy="0" r="2" fill="url(#rS)"/><circle cx="0" cy="10" r="2" fill="url(#rS)"/></pattern>
</defs>
<polyline points="277.2,569.8 545,569.8 545,612.5" fill="none" stroke="#2a2a2a" stroke-width="2"/>
<line x1="341.2" y1="569.8" x2="341.2" y2="727" stroke="#2a2a2a" stroke-width="2"/>
<path d="M272.2,566 V574 M275.2,563.5 V576.5 M278.4,561.5 V578.5" stroke="#2a2a2a" stroke-width="1.6"/>
<path d="M404,561 V579 M410,564 V576" stroke="#2a2a2a" stroke-width="2.2"/>
<rect x="405" y="566" width="4" height="8" fill="#fff"/>
<text x="323.5" y="711.0" font-size="22" fill="#2a2a2a" text-anchor="middle" >S</text>
<text x="562.5" y="580.0" font-size="23" fill="#2a2a2a" text-anchor="middle" >D</text>
<polygon points="255,779.7 569.6,829.9 569.6,861.5 256,810" fill="url(#slabF)"/>
<polygon points="569.6,829.9 646.5,768 646.5,796 569.6,861.5" fill="#7c7c76"/>
<polygon points="255,779.7 330,727 646.5,768 569.6,829.9" fill="url(#slabTop)"/>
<polyline points="256,781.5 569.6,831.5 646.5,769.5" fill="none" stroke="#c8b8ee" stroke-width="2"/>
<clipPath id="topclip"><polygon points="262,777.5 331,729.5 641,769 567.5,825"/></clipPath>
<path d="M343.0,725.4 V786.8 M351.9,726.6 V788.0 M360.8,727.8 V789.3 M369.7,729.0 V790.5 M378.6,730.2 V791.8 M387.5,731.4 V793.0 M396.4,732.6 V794.3 M405.3,733.8 V795.5 M414.2,734.9 V796.7 M423.1,736.1 V798.0 M432.0,737.3 V799.2 M440.9,738.5 V800.5 M449.8,739.7 V801.7 M458.7,740.9 V803.0 M467.6,742.1 V804.2 M476.5,743.3 V805.5 M485.4,744.5 V806.7 M494.3,745.7 V808.0 M503.2,746.9 V809.2 M512.1,748.1 V810.5 M521.0,749.3 V811.7 M529.9,750.4 V812.9 M538.8,751.6 V814.2 M547.7,752.8 V815.4 M556.6,754.0 V816.7 M565.5,755.2 V817.9 M574.4,756.4 V819.2 M583.3,757.6 V820.4 M592.2,758.8 V821.7 M601.1,760.0 V822.9 M610.0,761.2 V824.2 M618.9,762.4 V825.4 M627.8,768.0 V826.7 M636.7,768.0 V827.9" stroke="#20203a" stroke-width="3.6" stroke-dasharray="3.2,1.6" opacity="0.72" clip-path="url(#topclip)"/>
<path d="M268,772 L336,779 L416,745" fill="none" stroke="#20203a" stroke-width="4" stroke-dasharray="3.5,2" opacity="0.6"/>
<polygon points="454,684 588,689 588,812 560,814 454,795" fill="#3a3a34" fill-opacity="0.6"/>
<polygon points="454,684 588,689 588,812 560,814 454,795" fill="url(#wse)"/>
<polygon points="588,689 628,672 628,778 588,812" fill="#6a7a68" fill-opacity="0.35"/>
<polygon points="588,689 628,672 628,778 588,812" fill="url(#wse2)"/>
<polygon points="454,770 588,800 588,812 560,814 454,795" fill="url(#graph)" opacity="0.7"/>
<polygon points="453.4,646.6 585.9,649.5 630.5,634.7 630.5,679.3 585.9,691.2 453.4,688.2" fill="#e4e6e4" fill-opacity="0.92"/>
<polygon points="585.9,649.5 630.5,634.7 630.5,679.3 585.9,691.2" fill="#eef0ee" fill-opacity="0.85"/>
<polygon points="453.4,646.6 585.9,649.5 585.9,691.2 453.4,688.2" fill="#d8dad8" fill-opacity="0.9"/>
<polygon points="473.7,617.5 534.5,603 614,605.8 556,623.3" fill="#bababa"/>
<polygon points="556,623.3 614,605.8 614,637 556,650.4" fill="#a2a2a0"/>
<polygon points="473.7,617.5 556,623.3 556,650.4 473.7,647" fill="url(#grayF)"/>
<line x1="473.7" y1="618.3" x2="556" y2="624.1" stroke="#4a5270" stroke-width="2"/>
<line x1="545" y1="569.8" x2="545" y2="613" stroke="#2a2a2a" stroke-width="2"/>
<polygon points="332.8,753.5 416.6,720.2 416.6,740.4 332.8,774.7" fill="url(#goldR)"/>
<polygon points="272.3,746.4 332.8,753.5 332.8,774.7 274.3,767.6" fill="#ebb72a"/>
<polygon points="272.3,746.4 361.1,715.1 416.6,720.2 332.8,753.5" fill="#e2ae22"/>
<line x1="272.3" y1="746.6" x2="332.8" y2="753.7" stroke="#9a7010" stroke-width="1.2"/>
<polyline points="274.3,768 332.8,775 416.6,740.6" fill="none" stroke="#5a4a3a" stroke-width="1.5" opacity="0.6"/>
<line x1="341.2" y1="700" x2="341.2" y2="727" stroke="#2a2a2a" stroke-width="2"/>
<text x="401.5" y="780.7" font-size="18" fill="#f4f4f4" text-anchor="middle" textLength="86.8" lengthAdjust="spacingAndGlyphs" >Graphene</text>
<text x="499.4" y="688.0" font-size="25" fill="#f4f4f4" textLength="38" lengthAdjust="spacingAndGlyphs" >WO</text>
<text x="538.5" y="691.5" font-size="15" fill="#f4f4f4" textLength="21" lengthAdjust="spacingAndGlyphs" >3-x</text>
<text x="494.5" y="753.7" font-size="23" fill="#f4f4f4" textLength="49" lengthAdjust="spacingAndGlyphs" >WSe</text>
<text x="544.8" y="758.5" font-size="15" fill="#f4f4f4" >2</text>
<text x="0.0" y="0.0" font-size="22" fill="#262626" textLength="119" lengthAdjust="spacingAndGlyphs" font-style="italic" transform="translate(425.5,832.5) rotate(8.3)" stroke="#262626" stroke-width="0.35">SiO<tspan font-size="14" dy="4">2</tspan><tspan dy="-4"> / p</tspan><tspan font-size="13" dy="-9">++</tspan><tspan dy="9">-Si</tspan></text>
<path d="M378.2,832 V845.3 M369.2,845.3 H389.3 M373,850.4 H384.3 M378.2,850.4 V867.5 M369.2,867.5 H389.3 M372.5,871.5 H384 M375.5,875.2 H381" stroke="#2a2a2a" stroke-width="2"/>
<text x="393.0" y="864.0" font-size="22" fill="#2a2a2a" >G</text>
<g fill="none" stroke="#222" stroke-width="1.8" stroke-dasharray="5,3.5"><line x1="587.4" y1="627" x2="587.4" y2="817"/><line x1="602.2" y1="622.7" x2="602.2" y2="808.8"/><line x1="587.4" y1="627" x2="602.2" y2="622.7"/><line x1="587.4" y1="817" x2="602.2" y2="808.8"/></g>
<g stroke="#222" stroke-width="2" stroke-dasharray="8,6"><line x1="602.2" y1="622.7" x2="682.6" y2="563.4"/><line x1="602.2" y1="808.8" x2="682.6" y2="877.7"/></g>
<rect x="682.7" y="563.7" width="244.29999999999995" height="313.5" fill="#fff"/>
<rect x="682.7" y="563.7" width="244.29999999999995" height="36.7" fill="#aaaaaa"/>
<rect x="682.7" y="839.7" width="244.29999999999995" height="37.5" fill="#7262a6"/>
<line x1="690" y1="832.7" x2="920" y2="832.7" stroke="#777" stroke-width="1.2"/>
<circle cx="690.5" cy="832.7" r="4.3" fill="#333"/><circle cx="699.4" cy="832.7" r="4.3" fill="#3a3a3a"/>
<circle cx="717.6" cy="832.7" r="4.3" fill="#333"/><circle cx="726.5" cy="832.7" r="4.3" fill="#3a3a3a"/>
<circle cx="744.7" cy="832.7" r="4.3" fill="#333"/><circle cx="753.6" cy="832.7" r="4.3" fill="#3a3a3a"/>
<circle cx="771.8" cy="832.7" r="4.3" fill="#333"/><circle cx="780.7" cy="832.7" r="4.3" fill="#3a3a3a"/>
<circle cx="798.9" cy="832.7" r="4.3" fill="#333"/><circle cx="807.8" cy="832.7" r="4.3" fill="#3a3a3a"/>
<circle cx="826.0" cy="832.7" r="4.3" fill="#333"/><circle cx="834.9" cy="832.7" r="4.3" fill="#3a3a3a"/>
<circle cx="853.1" cy="832.7" r="4.3" fill="#333"/><circle cx="862.0" cy="832.7" r="4.3" fill="#3a3a3a"/>
<circle cx="880.2" cy="832.7" r="4.3" fill="#333"/><circle cx="889.1" cy="832.7" r="4.3" fill="#3a3a3a"/>
<circle cx="907.3" cy="832.7" r="4.3" fill="#333"/><circle cx="916.2" cy="832.7" r="4.3" fill="#3a3a3a"/>
<path d="M694.1,723.3 L707.7,708.1 L721.3,723.3 M694.1,723.3 L707.7,739.7 L721.3,723.3 M721.3,723.3 L734.9,708.1 L748.5,723.3 M721.3,723.3 L734.9,739.7 L748.5,723.3 M748.5,723.3 L762.1,708.1 L775.7,723.3 M748.5,723.3 L762.1,739.7 L775.7,723.3 M775.7,723.3 L789.3,708.1 L802.9,723.3 M775.7,723.3 L789.3,739.7 L802.9,723.3 M802.9,723.3 L816.5,708.1 L830.1,723.3 M802.9,723.3 L816.5,739.7 L830.1,723.3 M830.1,723.3 L843.7,708.1 L857.3,723.3 M830.1,723.3 L843.7,739.7 L857.3,723.3 M857.3,723.3 L870.9,708.1 L884.5,723.3 M857.3,723.3 L870.9,739.7 L884.5,723.3 M884.5,723.3 L898.1,708.1 L911.7,723.3 M884.5,723.3 L898.1,739.7 L911.7,723.3" stroke="#a8a8a8" stroke-width="1.3" fill="none"/>
<circle cx="707.7" cy="708.1" r="3.3" fill="#d42020"/>
<circle cx="707.7" cy="739.7" r="3.3" fill="#d42020"/>
<circle cx="734.9" cy="708.1" r="3.3" fill="#d42020"/>
<circle cx="734.9" cy="739.7" r="3.3" fill="#d42020"/>
<circle cx="762.1" cy="708.1" r="3.3" fill="#d42020"/>
<circle cx="762.1" cy="739.7" r="3.3" fill="#d42020"/>
<circle cx="789.3" cy="708.1" r="3.3" fill="#d42020"/>
<circle cx="789.3" cy="739.7" r="3.3" fill="#d42020"/>
<circle cx="816.5" cy="708.1" r="3.3" fill="#d42020"/>
<circle cx="816.5" cy="739.7" r="3.3" fill="#d42020"/>
<circle cx="843.7" cy="708.1" r="3.3" fill="#d42020"/>
<circle cx="843.7" cy="739.7" r="3.3" fill="#d42020"/>
<circle cx="870.9" cy="708.1" r="3.3" fill="#d42020"/>
<circle cx="870.9" cy="739.7" r="3.3" fill="#d42020"/>
<circle cx="898.1" cy="708.1" r="3.3" fill="#d42020"/>
<circle cx="898.1" cy="739.7" r="3.3" fill="#d42020"/>
<circle cx="694.1" cy="723.3" r="6" fill="url(#gS)"/>
<circle cx="721.3" cy="723.3" r="6" fill="url(#gS)"/>
<circle cx="748.5" cy="723.3" r="6" fill="url(#gS)"/>
<circle cx="775.7" cy="723.3" r="6" fill="url(#gS)"/>
<circle cx="802.9" cy="723.3" r="6" fill="url(#gS)"/>
<circle cx="830.1" cy="723.3" r="6" fill="url(#gS)"/>
<circle cx="857.3" cy="723.3" r="6" fill="url(#gS)"/>
<circle cx="884.5" cy="723.3" r="6" fill="url(#gS)"/>
<circle cx="911.7" cy="723.3" r="6" fill="url(#gS)"/>
<path d="M694.1,764.2 L703.7,748.6 L721.3,764.2 M694.1,764.2 L703.7,779.9 L721.3,764.2 M721.3,764.2 L730.9,748.6 L748.5,764.2 M721.3,764.2 L730.9,779.9 L748.5,764.2 M748.5,764.2 L758.1,748.6 L775.7,764.2 M748.5,764.2 L758.1,779.9 L775.7,764.2 M775.7,764.2 L785.3,748.6 L802.9,764.2 M775.7,764.2 L785.3,779.9 L802.9,764.2 M802.9,764.2 L812.5,748.6 L830.1,764.2 M802.9,764.2 L812.5,779.9 L830.1,764.2 M830.1,764.2 L839.7,748.6 L857.3,764.2 M830.1,764.2 L839.7,779.9 L857.3,764.2 M857.3,764.2 L866.9,748.6 L884.5,764.2 M857.3,764.2 L866.9,779.9 L884.5,764.2 M884.5,764.2 L894.1,748.6 L911.7,764.2 M884.5,764.2 L894.1,779.9 L911.7,764.2" stroke="#a8a8a8" stroke-width="1.3" fill="none"/>
<circle cx="703.7" cy="748.6" r="3.3" fill="#d42020"/>
<circle cx="703.7" cy="779.9" r="3.3" fill="#d42020"/>
<circle cx="730.9" cy="748.6" r="3.3" fill="#d42020"/>
<circle cx="730.9" cy="779.9" r="3.3" fill="#d42020"/>
<circle cx="758.1" cy="748.6" r="3.3" fill="#d42020"/>
<circle cx="758.1" cy="779.9" r="3.3" fill="#d42020"/>
<circle cx="785.3" cy="748.6" r="3.3" fill="#d42020"/>
<circle cx="785.3" cy="779.9" r="3.3" fill="#d42020"/>
<circle cx="812.5" cy="748.6" r="3.3" fill="#d42020"/>
<circle cx="812.5" cy="779.9" r="3.3" fill="#d42020"/>
<circle cx="839.7" cy="748.6" r="3.3" fill="#d42020"/>
<circle cx="839.7" cy="779.9" r="3.3" fill="#d42020"/>
<circle cx="866.9" cy="748.6" r="3.3" fill="#d42020"/>
<circle cx="866.9" cy="779.9" r="3.3" fill="#d42020"/>
<circle cx="894.1" cy="748.6" r="3.3" fill="#d42020"/>
<circle cx="894.1" cy="779.9" r="3.3" fill="#d42020"/>
<circle cx="694.1" cy="764.2" r="6" fill="url(#gS)"/>
<circle cx="721.3" cy="764.2" r="6" fill="url(#gS)"/>
<circle cx="748.5" cy="764.2" r="6" fill="url(#gS)"/>
<circle cx="775.7" cy="764.2" r="6" fill="url(#gS)"/>
<circle cx="802.9" cy="764.2" r="6" fill="url(#gS)"/>
<circle cx="830.1" cy="764.2" r="6" fill="url(#gS)"/>
<circle cx="857.3" cy="764.2" r="6" fill="url(#gS)"/>
<circle cx="884.5" cy="764.2" r="6" fill="url(#gS)"/>
<circle cx="911.7" cy="764.2" r="6" fill="url(#gS)"/>
<path d="M694.1,804.8 L707.7,789.2 L721.3,804.8 M694.1,804.8 L707.7,819.7 L721.3,804.8 M721.3,804.8 L734.9,789.2 L748.5,804.8 M721.3,804.8 L734.9,819.7 L748.5,804.8 M748.5,804.8 L762.1,789.2 L775.7,804.8 M748.5,804.8 L762.1,819.7 L775.7,804.8 M775.7,804.8 L789.3,789.2 L802.9,804.8 M775.7,804.8 L789.3,819.7 L802.9,804.8 M802.9,804.8 L816.5,789.2 L830.1,804.8 M802.9,804.8 L816.5,819.7 L830.1,804.8 M830.1,804.8 L843.7,789.2 L857.3,804.8 M830.1,804.8 L843.7,819.7 L857.3,804.8 M857.3,804.8 L870.9,789.2 L884.5,804.8 M857.3,804.8 L870.9,819.7 L884.5,804.8 M884.5,804.8 L898.1,789.2 L911.7,804.8 M884.5,804.8 L898.1,819.7 L911.7,804.8" stroke="#a8a8a8" stroke-width="1.3" fill="none"/>
<circle cx="707.7" cy="789.2" r="3.3" fill="#d42020"/>
<circle cx="707.7" cy="819.7" r="3.3" fill="#d42020"/>
<circle cx="734.9" cy="789.2" r="3.3" fill="#d42020"/>
<circle cx="734.9" cy="819.7" r="3.3" fill="#d42020"/>
<circle cx="762.1" cy="789.2" r="3.3" fill="#d42020"/>
<circle cx="762.1" cy="819.7" r="3.3" fill="#d42020"/>
<circle cx="789.3" cy="789.2" r="3.3" fill="#d42020"/>
<circle cx="789.3" cy="819.7" r="3.3" fill="#d42020"/>
<circle cx="816.5" cy="789.2" r="3.3" fill="#d42020"/>
<circle cx="816.5" cy="819.7" r="3.3" fill="#d42020"/>
<circle cx="843.7" cy="789.2" r="3.3" fill="#d42020"/>
<circle cx="843.7" cy="819.7" r="3.3" fill="#d42020"/>
<circle cx="870.9" cy="789.2" r="3.3" fill="#d42020"/>
<circle cx="870.9" cy="819.7" r="3.3" fill="#d42020"/>
<circle cx="898.1" cy="789.2" r="3.3" fill="#d42020"/>
<circle cx="898.1" cy="819.7" r="3.3" fill="#d42020"/>
<circle cx="694.1" cy="804.8" r="6" fill="url(#gS)"/>
<circle cx="721.3" cy="804.8" r="6" fill="url(#gS)"/>
<circle cx="748.5" cy="804.8" r="6" fill="url(#gS)"/>
<circle cx="775.7" cy="804.8" r="6" fill="url(#gS)"/>
<circle cx="802.9" cy="804.8" r="6" fill="url(#gS)"/>
<circle cx="830.1" cy="804.8" r="6" fill="url(#gS)"/>
<circle cx="857.3" cy="804.8" r="6" fill="url(#gS)"/>
<circle cx="884.5" cy="804.8" r="6" fill="url(#gS)"/>
<circle cx="911.7" cy="804.8" r="6" fill="url(#gS)"/>
<path d="M714.2,633.0 L710.1,608.8 M714.2,633.0 L695.9,629.3 M714.2,633.0 L722.7,638.5 M714.2,633.0 L707.8,627.4 M714.2,633.0 L734.6,625.5 M754.7,634.8 L750.6,623.7 M754.7,634.8 L763.6,614.4 M784.8,633.0 L776.6,613.6 M754.7,634.8 L768.1,639.7 M784.8,633.0 L785.9,639.7 M784.8,633.0 L793.4,655.3 M821.6,626.3 L806.4,625.5 M821.6,626.3 L812.0,636.7 M821.6,626.3 L821.3,606.2 M821.6,626.3 L832.4,614.4 M821.6,626.3 L823.1,647.8 M821.6,626.3 L841.7,628.5 M864.0,632.2 L852.9,646.0 M864.0,632.2 L865.9,608.8 M864.0,632.2 L873.3,620.0 M864.0,632.2 L877.1,633.0 M904.9,631.1 L893.8,618.1 M904.9,631.1 L907.9,608.8 M904.9,631.1 L918.0,632.2 M904.9,631.1 L914.2,647.8 M904.9,631.1 L904.9,651.6 M710.1,677.6 L693.0,664.6 M710.1,677.6 L699.7,677.6 M710.1,677.6 L704.9,692.5 M710.1,677.6 L715.3,662.7 M752.5,675.7 L732.0,683.2 M752.5,675.7 L733.9,655.3 M752.5,675.7 L748.0,690.6 M752.5,675.7 L756.2,660.9 M752.5,675.7 L759.9,696.2 M752.5,675.7 L767.3,670.9 M791.5,680.6 L785.9,688.8 M791.5,680.6 L787.8,698.1 M791.5,680.6 L808.3,683.2 M826.9,675.7 L815.7,670.9 M826.9,675.7 L833.5,696.2 M826.9,675.7 L838.0,679.5 M858.5,673.9 L845.4,670.2 M858.5,673.9 L854.7,696.2 M858.5,673.9 L864.0,681.3 M858.5,673.9 L873.3,677.6 M899.7,674.6 L888.2,684.3 M899.7,674.6 L893.8,694.3 M899.7,674.6 L910.5,664.6 M899.7,674.6 L912.4,677.6 M714.2,633.0 L754.7,634.8 M754.7,634.8 L784.8,633.0 M784.8,633.0 L821.6,626.3 M821.6,626.3 L864.0,632.2 M864.0,632.2 L904.9,631.1 M710.1,677.6 L752.5,675.7 M752.5,675.7 L791.5,680.6 M791.5,680.6 L826.9,675.7 M826.9,675.7 L858.5,673.9 M858.5,673.9 L899.7,674.6 M714.2,633.0 L710.1,677.6 M754.7,634.8 L752.5,675.7 M821.6,626.3 L826.9,675.7 M904.9,631.1 L899.7,674.6 M754.7,634.8 L733.9,655.3 L710.1,677.6" stroke="#a0a0a0" stroke-width="1.5" fill="none"/>
<circle cx="710.1" cy="608.8" r="2.9" fill="#5866c8"/>
<circle cx="695.9" cy="629.3" r="2.9" fill="#5866c8"/>
<circle cx="722.7" cy="638.5" r="2.9" fill="#5866c8"/>
<circle cx="707.8" cy="627.4" r="2.9" fill="#5866c8"/>
<circle cx="734.6" cy="625.5" r="2.9" fill="#5866c8"/>
<circle cx="750.6" cy="623.7" r="2.9" fill="#5866c8"/>
<circle cx="763.6" cy="614.4" r="2.9" fill="#5866c8"/>
<circle cx="776.6" cy="613.6" r="2.9" fill="#5866c8"/>
<circle cx="768.1" cy="639.7" r="2.9" fill="#5866c8"/>
<circle cx="785.9" cy="639.7" r="2.9" fill="#5866c8"/>
<circle cx="793.4" cy="655.3" r="2.9" fill="#5866c8"/>
<circle cx="806.4" cy="625.5" r="2.9" fill="#5866c8"/>
<circle cx="812.0" cy="636.7" r="2.9" fill="#5866c8"/>
<circle cx="821.3" cy="606.2" r="2.9" fill="#5866c8"/>
<circle cx="832.4" cy="614.4" r="2.9" fill="#5866c8"/>
<circle cx="823.1" cy="647.8" r="2.9" fill="#5866c8"/>
<circle cx="841.7" cy="628.5" r="2.9" fill="#5866c8"/>
<circle cx="852.9" cy="646.0" r="2.9" fill="#5866c8"/>
<circle cx="865.9" cy="608.8" r="2.9" fill="#5866c8"/>
<circle cx="873.3" cy="620.0" r="2.9" fill="#5866c8"/>
<circle cx="877.1" cy="633.0" r="2.9" fill="#5866c8"/>
<circle cx="893.8" cy="618.1" r="2.9" fill="#5866c8"/>
<circle cx="907.9" cy="608.8" r="2.9" fill="#5866c8"/>
<circle cx="918.0" cy="632.2" r="2.9" fill="#5866c8"/>
<circle cx="914.2" cy="647.8" r="2.9" fill="#5866c8"/>
<circle cx="904.9" cy="651.6" r="2.9" fill="#5866c8"/>
<circle cx="693.0" cy="664.6" r="2.9" fill="#5866c8"/>
<circle cx="699.7" cy="677.6" r="2.9" fill="#5866c8"/>
<circle cx="704.9" cy="692.5" r="2.9" fill="#5866c8"/>
<circle cx="715.3" cy="662.7" r="2.9" fill="#5866c8"/>
<circle cx="732.0" cy="683.2" r="2.9" fill="#5866c8"/>
<circle cx="733.9" cy="655.3" r="2.9" fill="#5866c8"/>
<circle cx="748.0" cy="690.6" r="2.9" fill="#5866c8"/>
<circle cx="756.2" cy="660.9" r="2.9" fill="#5866c8"/>
<circle cx="759.9" cy="696.2" r="2.9" fill="#5866c8"/>
<circle cx="767.3" cy="670.9" r="2.9" fill="#5866c8"/>
<circle cx="785.9" cy="688.8" r="2.9" fill="#5866c8"/>
<circle cx="787.8" cy="698.1" r="2.9" fill="#5866c8"/>
<circle cx="808.3" cy="683.2" r="2.9" fill="#5866c8"/>
<circle cx="815.7" cy="670.9" r="2.9" fill="#5866c8"/>
<circle cx="833.5" cy="696.2" r="2.9" fill="#5866c8"/>
<circle cx="838.0" cy="679.5" r="2.9" fill="#5866c8"/>
<circle cx="845.4" cy="670.2" r="2.9" fill="#5866c8"/>
<circle cx="854.7" cy="696.2" r="2.9" fill="#5866c8"/>
<circle cx="864.0" cy="681.3" r="2.9" fill="#5866c8"/>
<circle cx="873.3" cy="677.6" r="2.9" fill="#5866c8"/>
<circle cx="888.2" cy="684.3" r="2.9" fill="#5866c8"/>
<circle cx="893.8" cy="694.3" r="2.9" fill="#5866c8"/>
<circle cx="910.5" cy="664.6" r="2.9" fill="#5866c8"/>
<circle cx="912.4" cy="677.6" r="2.9" fill="#5866c8"/>
<circle cx="714.2" cy="633.0" r="5.8" fill="url(#gS)"/>
<circle cx="754.7" cy="634.8" r="5.8" fill="url(#gS)"/>
<circle cx="784.8" cy="633.0" r="5.8" fill="url(#gS)"/>
<circle cx="821.6" cy="626.3" r="5.8" fill="url(#gS)"/>
<circle cx="864.0" cy="632.2" r="5.8" fill="url(#gS)"/>
<circle cx="904.9" cy="631.1" r="5.8" fill="url(#gS)"/>
<circle cx="710.1" cy="677.6" r="5.8" fill="url(#gS)"/>
<circle cx="752.5" cy="675.7" r="5.8" fill="url(#gS)"/>
<circle cx="791.5" cy="680.6" r="5.8" fill="url(#gS)"/>
<circle cx="826.9" cy="675.7" r="5.8" fill="url(#gS)"/>
<circle cx="858.5" cy="673.9" r="5.8" fill="url(#gS)"/>
<circle cx="899.7" cy="674.6" r="5.8" fill="url(#gS)"/>
<rect x="682.7" y="563.7" width="244.29999999999995" height="313.5" fill="none" stroke="#2a2a2a" stroke-width="2"/>
<defs>
<linearGradient id="blueG" gradientUnits="userSpaceOnUse" x1="0" y1="595" x2="0" y2="871">
<stop offset="0" stop-color="#23449a"/><stop offset="0.35" stop-color="#5a7cc0"/><stop offset="0.7" stop-color="#a8c4e6"/><stop offset="1" stop-color="#e8f2fb"/></linearGradient>
<linearGradient id="redG" gradientUnits="userSpaceOnUse" x1="0" y1="815" x2="0" y2="871">
<stop offset="0" stop-color="#d43a78"/><stop offset="1" stop-color="#f2b8cc"/></linearGradient>
<linearGradient id="grayG" gradientUnits="userSpaceOnUse" x1="0" y1="852" x2="0" y2="871">
<stop offset="0" stop-color="#8a8a8a"/><stop offset="1" stop-color="#bdbdbd"/></linearGradient>
</defs>
<rect x="1043" y="543.8" width="207.6" height="327.0" fill="#e3e3e3"/>
<polygon points="1072.1,867.0 1076.0,852.0 1080.4,839.4 1091.6,811.5 1102.8,787.4 1113.9,763.2 1125.0,740.9 1136.2,720.4 1146.0,698.5 1154.0,683.0 1161.9,669.5 1170.0,657.5 1177.8,646.5 1186.0,637.3 1193.8,629.0 1201.7,622.2 1209.7,616.2 1217.6,610.3 1225.6,605.1 1233.6,600.8 1241.6,597.3 1246.0,596.2 1249.8,595.6 1251.3,606.0 1252.6,618.0 1254.2,632.0 1256.0,645.0 1258.5,672.0 1260.8,700.0 1263.6,720.5 1268.3,742.8 1274.8,761.4 1281.3,780.0 1287.8,800.5 1293.4,815.3 1300.8,830.2 1308.3,841.4 1315.7,850.7 1323.1,856.3 1332.4,859.1 1341.7,860.0 1365.0,860.4 1434.0,861.0 1434,870.8 1073.2,870.8" fill="url(#blueG)"/>
<polygon points="1071.3,869.0 1078.0,862.5 1090.0,857.0 1102.0,854.5 1114.0,851.0 1126.0,848.0 1138.0,840.0 1150.0,834.0 1162.0,830.0 1174.0,827.0 1186.0,824.0 1198.0,822.0 1210.0,820.0 1222.0,819.5 1233.0,818.0 1245.0,819.0 1251.0,820.5 1257.0,836.0 1263.0,846.0 1269.0,851.5 1275.0,858.5 1281.0,862.5 1288.0,866.0 1300.0,867.4 1430.0,867.4 1430,870.8 1071,870.8" fill="url(#redG)"/>
<polygon points="1071.7,869.0 1090.0,865.0 1108.0,863.0 1126.0,861.0 1144.0,860.0 1156.0,857.5 1168.0,858.0 1180.0,857.5 1192.0,855.5 1204.0,853.5 1216.0,852.5 1228.0,853.0 1240.0,853.5 1251.0,855.0 1263.0,859.0 1275.0,861.5 1288.0,862.3 1300.0,862.3 1430.0,862.3 1430,870.8 1071,870.8" fill="url(#grayG)"/>
<polyline points="1072.1,867.0 1076.0,852.0 1080.4,839.4 1091.6,811.5 1102.8,787.4 1113.9,763.2 1125.0,740.9 1136.2,720.4 1146.0,698.5 1154.0,683.0 1161.9,669.5 1170.0,657.5 1177.8,646.5 1186.0,637.3 1193.8,629.0 1201.7,622.2 1209.7,616.2 1217.6,610.3 1225.6,605.1 1233.6,600.8 1241.6,597.3 1246.0,596.2 1249.8,595.6 1251.3,606.0 1252.6,618.0 1254.2,632.0 1256.0,645.0 1258.5,672.0 1260.8,700.0 1263.6,720.5 1268.3,742.8 1274.8,761.4 1281.3,780.0 1287.8,800.5 1293.4,815.3 1300.8,830.2 1308.3,841.4 1315.7,850.7 1323.1,856.3 1332.4,859.1 1341.7,860.0 1365.0,860.4 1434.0,861.0" fill="none" stroke="#2a4aa2" stroke-width="2.6" stroke-linejoin="round"/>
<line x1="1233" y1="793" x2="1233" y2="684" stroke="#2a4aa2" stroke-width="3.6"/>
<polyline points="1222,695 1233,682 1244,695" fill="none" stroke="#2a4aa2" stroke-width="3"/>
<line x1="1233" y1="846" x2="1233" y2="833" stroke="#e03030" stroke-width="4"/>
<path d="M1226,836 L1233,827 L1240,836 L1233,833 Z" fill="#e03030" stroke="#e03030" stroke-width="1"/>
<circle cx="1339.4" cy="861.1" r="2.9" fill="#fff" stroke="#2f54b0" stroke-width="1.9"/><circle cx="1345.3" cy="861.1" r="2.9" fill="#fff" stroke="#2f54b0" stroke-width="1.9"/><circle cx="1351.2" cy="861.1" r="2.9" fill="#fff" stroke="#2f54b0" stroke-width="1.9"/><circle cx="1357.2" cy="861.1" r="2.9" fill="#fff" stroke="#2f54b0" stroke-width="1.9"/><circle cx="1363.1" cy="861.1" r="2.9" fill="#fff" stroke="#2f54b0" stroke-width="1.9"/><circle cx="1369.0" cy="861.1" r="2.9" fill="#fff" stroke="#2f54b0" stroke-width="1.9"/><circle cx="1374.9" cy="861.1" r="2.9" fill="#fff" stroke="#2f54b0" stroke-width="1.9"/><circle cx="1380.8" cy="861.1" r="2.9" fill="#fff" stroke="#2f54b0" stroke-width="1.9"/><circle cx="1386.8" cy="861.1" r="2.9" fill="#fff" stroke="#2f54b0" stroke-width="1.9"/><circle cx="1392.7" cy="861.1" r="2.9" fill="#fff" stroke="#2f54b0" stroke-width="1.9"/><circle cx="1398.6" cy="861.1" r="2.9" fill="#fff" stroke="#2f54b0" stroke-width="1.9"/>
<circle cx="1073.0" cy="867.8" r="2.9" fill="#fff" stroke="#1e1e1e" stroke-width="1.9"/><circle cx="1078.9" cy="868.6" r="2.9" fill="#fff" stroke="#1e1e1e" stroke-width="1.9"/><circle cx="1084.8" cy="868.1" r="2.9" fill="#fff" stroke="#1e1e1e" stroke-width="1.9"/><circle cx="1090.8" cy="864.6" r="2.9" fill="#fff" stroke="#1e1e1e" stroke-width="1.9"/><circle cx="1096.7" cy="864.6" r="2.9" fill="#fff" stroke="#1e1e1e" stroke-width="1.9"/><circle cx="1102.6" cy="864.0" r="2.9" fill="#fff" stroke="#1e1e1e" stroke-width="1.9"/><circle cx="1108.5" cy="863.4" r="2.9" fill="#fff" stroke="#1e1e1e" stroke-width="1.9"/><circle cx="1114.4" cy="859.9" r="2.9" fill="#fff" stroke="#1e1e1e" stroke-width="1.9"/><circle cx="1120.4" cy="858.9" r="2.9" fill="#fff" stroke="#1e1e1e" stroke-width="1.9"/><circle cx="1126.3" cy="860.4" r="2.9" fill="#fff" stroke="#1e1e1e" stroke-width="1.9"/><circle cx="1132.2" cy="861.1" r="2.9" fill="#fff" stroke="#1e1e1e" stroke-width="1.9"/><circle cx="1138.1" cy="862.2" r="2.9" fill="#fff" stroke="#1e1e1e" stroke-width="1.9"/><circle cx="1144.0" cy="859.6" r="2.9" fill="#fff" stroke="#1e1e1e" stroke-width="1.9"/><circle cx="1150.0" cy="859.9" r="2.9" fill="#fff" stroke="#1e1e1e" stroke-width="1.9"/><circle cx="1155.9" cy="855.9" r="2.9" fill="#fff" stroke="#1e1e1e" stroke-width="1.9"/><circle cx="1161.8" cy="858.2" r="2.9" fill="#fff" stroke="#1e1e1e" stroke-width="1.9"/><circle cx="1167.7" cy="857.9" r="2.9" fill="#fff" stroke="#1e1e1e" stroke-width="1.9"/><circle cx="1173.6" cy="861.1" r="2.9" fill="#fff" stroke="#1e1e1e" stroke-width="1.9"/><circle cx="1179.6" cy="858.2" r="2.9" fill="#fff" stroke="#1e1e1e" stroke-width="1.9"/><circle cx="1185.5" cy="853.2" r="2.9" fill="#fff" stroke="#1e1e1e" stroke-width="1.9"/><circle cx="1191.4" cy="855.9" r="2.9" fill="#fff" stroke="#1e1e1e" stroke-width="1.9"/><circle cx="1197.3" cy="855.9" r="2.9" fill="#fff" stroke="#1e1e1e" stroke-width="1.9"/><circle cx="1203.2" cy="852.2" r="2.9" fill="#fff" stroke="#1e1e1e" stroke-width="1.9"/><circle cx="1209.2" cy="855.9" r="2.9" fill="#fff" stroke="#1e1e1e" stroke-width="1.9"/><circle cx="1215.1" cy="851.0" r="2.9" fill="#fff" stroke="#1e1e1e" stroke-width="1.9"/><circle cx="1221.0" cy="855.9" r="2.9" fill="#fff" stroke="#1e1e1e" stroke-width="1.9"/><circle cx="1226.9" cy="853.2" r="2.9" fill="#fff" stroke="#1e1e1e" stroke-width="1.9"/><circle cx="1232.8" cy="853.7" r="2.9" fill="#fff" stroke="#1e1e1e" stroke-width="1.9"/><circle cx="1238.8" cy="852.8" r="2.9" fill="#fff" stroke="#1e1e1e" stroke-width="1.9"/><circle cx="1244.7" cy="856.7" r="2.9" fill="#fff" stroke="#1e1e1e" stroke-width="1.9"/><circle cx="1250.6" cy="854.4" r="2.9" fill="#fff" stroke="#1e1e1e" stroke-width="1.9"/><circle cx="1256.5" cy="856.7" r="2.9" fill="#fff" stroke="#1e1e1e" stroke-width="1.9"/><circle cx="1262.4" cy="858.9" r="2.9" fill="#fff" stroke="#1e1e1e" stroke-width="1.9"/><circle cx="1268.4" cy="860.4" r="2.9" fill="#fff" stroke="#1e1e1e" stroke-width="1.9"/><circle cx="1274.3" cy="861.4" r="2.9" fill="#fff" stroke="#1e1e1e" stroke-width="1.9"/><circle cx="1280.2" cy="861.9" r="2.9" fill="#fff" stroke="#1e1e1e" stroke-width="1.9"/><circle cx="1286.1" cy="862.2" r="2.9" fill="#fff" stroke="#1e1e1e" stroke-width="1.9"/><circle cx="1292.0" cy="862.2" r="2.9" fill="#fff" stroke="#1e1e1e" stroke-width="1.9"/><circle cx="1298.0" cy="862.2" r="2.9" fill="#fff" stroke="#1e1e1e" stroke-width="1.9"/><circle cx="1303.9" cy="862.2" r="2.9" fill="#fff" stroke="#1e1e1e" stroke-width="1.9"/><circle cx="1309.8" cy="862.2" r="2.9" fill="#fff" stroke="#1e1e1e" stroke-width="1.9"/><circle cx="1315.7" cy="862.2" r="2.9" fill="#fff" stroke="#1e1e1e" stroke-width="1.9"/><circle cx="1321.6" cy="862.2" r="2.9" fill="#fff" stroke="#1e1e1e" stroke-width="1.9"/><circle cx="1327.6" cy="862.2" r="2.9" fill="#fff" stroke="#1e1e1e" stroke-width="1.9"/><circle cx="1333.5" cy="862.2" r="2.9" fill="#fff" stroke="#1e1e1e" stroke-width="1.9"/><circle cx="1339.4" cy="862.2" r="2.9" fill="#fff" stroke="#1e1e1e" stroke-width="1.9"/><circle cx="1345.3" cy="862.2" r="2.9" fill="#fff" stroke="#1e1e1e" stroke-width="1.9"/><circle cx="1351.2" cy="862.2" r="2.9" fill="#fff" stroke="#1e1e1e" stroke-width="1.9"/><circle cx="1357.2" cy="862.2" r="2.9" fill="#fff" stroke="#1e1e1e" stroke-width="1.9"/><circle cx="1363.1" cy="862.2" r="2.9" fill="#fff" stroke="#1e1e1e" stroke-width="1.9"/><circle cx="1369.0" cy="862.2" r="2.9" fill="#fff" stroke="#1e1e1e" stroke-width="1.9"/><circle cx="1374.9" cy="862.2" r="2.9" fill="#fff" stroke="#1e1e1e" stroke-width="1.9"/><circle cx="1380.8" cy="862.2" r="2.9" fill="#fff" stroke="#1e1e1e" stroke-width="1.9"/><circle cx="1386.8" cy="862.2" r="2.9" fill="#fff" stroke="#1e1e1e" stroke-width="1.9"/><circle cx="1392.7" cy="862.2" r="2.9" fill="#fff" stroke="#1e1e1e" stroke-width="1.9"/><circle cx="1398.6" cy="862.2" r="2.9" fill="#fff" stroke="#1e1e1e" stroke-width="1.9"/><circle cx="1404.5" cy="862.2" r="2.9" fill="#fff" stroke="#1e1e1e" stroke-width="1.9"/><circle cx="1410.4" cy="862.2" r="2.9" fill="#fff" stroke="#1e1e1e" stroke-width="1.9"/><circle cx="1416.4" cy="862.2" r="2.9" fill="#fff" stroke="#1e1e1e" stroke-width="1.9"/><circle cx="1422.3" cy="862.2" r="2.9" fill="#fff" stroke="#1e1e1e" stroke-width="1.9"/><circle cx="1428.2" cy="862.2" r="2.9" fill="#fff" stroke="#1e1e1e" stroke-width="1.9"/>
<circle cx="1073.0" cy="867.2" r="2.9" fill="#fff" stroke="#e02a2a" stroke-width="1.9"/><circle cx="1078.9" cy="861.1" r="2.9" fill="#fff" stroke="#e02a2a" stroke-width="1.9"/><circle cx="1084.8" cy="862.2" r="2.9" fill="#fff" stroke="#e02a2a" stroke-width="1.9"/><circle cx="1090.8" cy="855.5" r="2.9" fill="#fff" stroke="#e02a2a" stroke-width="1.9"/><circle cx="1096.7" cy="855.0" r="2.9" fill="#fff" stroke="#e02a2a" stroke-width="1.9"/><circle cx="1102.6" cy="854.4" r="2.9" fill="#fff" stroke="#e02a2a" stroke-width="1.9"/><circle cx="1108.5" cy="851.0" r="2.9" fill="#fff" stroke="#e02a2a" stroke-width="1.9"/><circle cx="1114.4" cy="851.0" r="2.9" fill="#fff" stroke="#e02a2a" stroke-width="1.9"/><circle cx="1120.4" cy="846.5" r="2.9" fill="#fff" stroke="#e02a2a" stroke-width="1.9"/><circle cx="1126.3" cy="847.7" r="2.9" fill="#fff" stroke="#e02a2a" stroke-width="1.9"/><circle cx="1132.2" cy="846.1" r="2.9" fill="#fff" stroke="#e02a2a" stroke-width="1.9"/><circle cx="1138.1" cy="837.2" r="2.9" fill="#fff" stroke="#e02a2a" stroke-width="1.9"/><circle cx="1144.0" cy="833.6" r="2.9" fill="#fff" stroke="#e02a2a" stroke-width="1.9"/><circle cx="1150.0" cy="833.6" r="2.9" fill="#fff" stroke="#e02a2a" stroke-width="1.9"/><circle cx="1155.9" cy="837.6" r="2.9" fill="#fff" stroke="#e02a2a" stroke-width="1.9"/><circle cx="1161.8" cy="829.7" r="2.9" fill="#fff" stroke="#e02a2a" stroke-width="1.9"/><circle cx="1167.7" cy="832.1" r="2.9" fill="#fff" stroke="#e02a2a" stroke-width="1.9"/><circle cx="1173.6" cy="826.2" r="2.9" fill="#fff" stroke="#e02a2a" stroke-width="1.9"/><circle cx="1179.6" cy="826.2" r="2.9" fill="#fff" stroke="#e02a2a" stroke-width="1.9"/><circle cx="1185.5" cy="824.7" r="2.9" fill="#fff" stroke="#e02a2a" stroke-width="1.9"/><circle cx="1191.4" cy="821.2" r="2.9" fill="#fff" stroke="#e02a2a" stroke-width="1.9"/><circle cx="1197.3" cy="821.8" r="2.9" fill="#fff" stroke="#e02a2a" stroke-width="1.9"/><circle cx="1203.2" cy="820.8" r="2.9" fill="#fff" stroke="#e02a2a" stroke-width="1.9"/><circle cx="1209.2" cy="818.6" r="2.9" fill="#fff" stroke="#e02a2a" stroke-width="1.9"/><circle cx="1215.1" cy="821.8" r="2.9" fill="#fff" stroke="#e02a2a" stroke-width="1.9"/><circle cx="1221.0" cy="819.0" r="2.9" fill="#fff" stroke="#e02a2a" stroke-width="1.9"/><circle cx="1226.9" cy="819.0" r="2.9" fill="#fff" stroke="#e02a2a" stroke-width="1.9"/><circle cx="1232.8" cy="814.7" r="2.9" fill="#fff" stroke="#e02a2a" stroke-width="1.9"/><circle cx="1238.8" cy="819.0" r="2.9" fill="#fff" stroke="#e02a2a" stroke-width="1.9"/><circle cx="1244.7" cy="819.0" r="2.9" fill="#fff" stroke="#e02a2a" stroke-width="1.9"/><circle cx="1250.6" cy="820.8" r="2.9" fill="#fff" stroke="#e02a2a" stroke-width="1.9"/><circle cx="1256.5" cy="838.1" r="2.9" fill="#fff" stroke="#e02a2a" stroke-width="1.9"/><circle cx="1262.4" cy="846.0" r="2.9" fill="#fff" stroke="#e02a2a" stroke-width="1.9"/><circle cx="1268.4" cy="851.2" r="2.9" fill="#fff" stroke="#e02a2a" stroke-width="1.9"/><circle cx="1274.3" cy="858.9" r="2.9" fill="#fff" stroke="#e02a2a" stroke-width="1.9"/><circle cx="1280.2" cy="863.4" r="2.9" fill="#fff" stroke="#e02a2a" stroke-width="1.9"/><circle cx="1286.1" cy="865.6" r="2.9" fill="#fff" stroke="#e02a2a" stroke-width="1.9"/><circle cx="1292.0" cy="867.4" r="2.9" fill="#fff" stroke="#e02a2a" stroke-width="1.9"/><circle cx="1298.0" cy="867.4" r="2.9" fill="#fff" stroke="#e02a2a" stroke-width="1.9"/><circle cx="1303.9" cy="867.4" r="2.9" fill="#fff" stroke="#e02a2a" stroke-width="1.9"/><circle cx="1309.8" cy="867.4" r="2.9" fill="#fff" stroke="#e02a2a" stroke-width="1.9"/><circle cx="1315.7" cy="867.4" r="2.9" fill="#fff" stroke="#e02a2a" stroke-width="1.9"/><circle cx="1321.6" cy="867.4" r="2.9" fill="#fff" stroke="#e02a2a" stroke-width="1.9"/><circle cx="1327.6" cy="867.4" r="2.9" fill="#fff" stroke="#e02a2a" stroke-width="1.9"/><circle cx="1333.5" cy="867.4" r="2.9" fill="#fff" stroke="#e02a2a" stroke-width="1.9"/><circle cx="1339.4" cy="867.4" r="2.9" fill="#fff" stroke="#e02a2a" stroke-width="1.9"/><circle cx="1345.3" cy="867.4" r="2.9" fill="#fff" stroke="#e02a2a" stroke-width="1.9"/><circle cx="1351.2" cy="867.4" r="2.9" fill="#fff" stroke="#e02a2a" stroke-width="1.9"/><circle cx="1357.2" cy="867.4" r="2.9" fill="#fff" stroke="#e02a2a" stroke-width="1.9"/><circle cx="1363.1" cy="867.4" r="2.9" fill="#fff" stroke="#e02a2a" stroke-width="1.9"/><circle cx="1369.0" cy="867.4" r="2.9" fill="#fff" stroke="#e02a2a" stroke-width="1.9"/><circle cx="1374.9" cy="867.4" r="2.9" fill="#fff" stroke="#e02a2a" stroke-width="1.9"/><circle cx="1380.8" cy="867.4" r="2.9" fill="#fff" stroke="#e02a2a" stroke-width="1.9"/><circle cx="1386.8" cy="867.4" r="2.9" fill="#fff" stroke="#e02a2a" stroke-width="1.9"/><circle cx="1392.7" cy="867.4" r="2.9" fill="#fff" stroke="#e02a2a" stroke-width="1.9"/><circle cx="1398.6" cy="867.4" r="2.9" fill="#fff" stroke="#e02a2a" stroke-width="1.9"/><circle cx="1404.5" cy="867.4" r="2.9" fill="#fff" stroke="#e02a2a" stroke-width="1.9"/><circle cx="1410.4" cy="867.4" r="2.9" fill="#fff" stroke="#e02a2a" stroke-width="1.9"/><circle cx="1416.4" cy="867.4" r="2.9" fill="#fff" stroke="#e02a2a" stroke-width="1.9"/><circle cx="1422.3" cy="867.4" r="2.9" fill="#fff" stroke="#e02a2a" stroke-width="1.9"/><circle cx="1428.2" cy="867.4" r="2.9" fill="#fff" stroke="#e02a2a" stroke-width="1.9"/>
<circle cx="1078.9" cy="823.6" r="2.9" fill="#fff" stroke="#2f54b0" stroke-width="1.9"/><circle cx="1084.8" cy="826.5" r="2.9" fill="#fff" stroke="#2f54b0" stroke-width="1.9"/><circle cx="1090.8" cy="793.9" r="2.9" fill="#fff" stroke="#2f54b0" stroke-width="1.9"/><circle cx="1096.7" cy="793.4" r="2.9" fill="#fff" stroke="#2f54b0" stroke-width="1.9"/><circle cx="1102.6" cy="789.0" r="2.9" fill="#fff" stroke="#2f54b0" stroke-width="1.9"/><circle cx="1108.5" cy="774.8" r="2.9" fill="#fff" stroke="#2f54b0" stroke-width="1.9"/><circle cx="1114.4" cy="776.6" r="2.9" fill="#fff" stroke="#2f54b0" stroke-width="1.9"/><circle cx="1120.4" cy="752.4" r="2.9" fill="#fff" stroke="#2f54b0" stroke-width="1.9"/><circle cx="1126.3" cy="755.8" r="2.9" fill="#fff" stroke="#2f54b0" stroke-width="1.9"/><circle cx="1132.2" cy="748.0" r="2.9" fill="#fff" stroke="#2f54b0" stroke-width="1.9"/><circle cx="1138.1" cy="702.7" r="2.9" fill="#fff" stroke="#2f54b0" stroke-width="1.9"/><circle cx="1144.0" cy="687.8" r="2.9" fill="#fff" stroke="#2f54b0" stroke-width="1.9"/><circle cx="1150.0" cy="684.1" r="2.9" fill="#fff" stroke="#2f54b0" stroke-width="1.9"/><circle cx="1155.9" cy="701.9" r="2.9" fill="#fff" stroke="#2f54b0" stroke-width="1.9"/><circle cx="1161.8" cy="668.4" r="2.9" fill="#fff" stroke="#2f54b0" stroke-width="1.9"/><circle cx="1167.7" cy="677.4" r="2.9" fill="#fff" stroke="#2f54b0" stroke-width="1.9"/><circle cx="1173.6" cy="646.7" r="2.9" fill="#fff" stroke="#2f54b0" stroke-width="1.9"/><circle cx="1179.6" cy="648.3" r="2.9" fill="#fff" stroke="#2f54b0" stroke-width="1.9"/><circle cx="1185.5" cy="641.6" r="2.9" fill="#fff" stroke="#2f54b0" stroke-width="1.9"/><circle cx="1191.4" cy="623.0" r="2.9" fill="#fff" stroke="#2f54b0" stroke-width="1.9"/><circle cx="1197.3" cy="626.8" r="2.9" fill="#fff" stroke="#2f54b0" stroke-width="1.9"/><circle cx="1203.2" cy="623.8" r="2.9" fill="#fff" stroke="#2f54b0" stroke-width="1.9"/><circle cx="1209.2" cy="611.9" r="2.9" fill="#fff" stroke="#2f54b0" stroke-width="1.9"/><circle cx="1215.1" cy="627.5" r="2.9" fill="#fff" stroke="#2f54b0" stroke-width="1.9"/><circle cx="1221.0" cy="611.0" r="2.9" fill="#fff" stroke="#2f54b0" stroke-width="1.9"/><circle cx="1226.9" cy="611.0" r="2.9" fill="#fff" stroke="#2f54b0" stroke-width="1.9"/><circle cx="1232.8" cy="591.1" r="2.9" fill="#fff" stroke="#2f54b0" stroke-width="1.9"/><circle cx="1238.8" cy="614.9" r="2.9" fill="#fff" stroke="#2f54b0" stroke-width="1.9"/><circle cx="1244.7" cy="612.6" r="2.9" fill="#fff" stroke="#2f54b0" stroke-width="1.9"/><circle cx="1250.6" cy="623.8" r="2.9" fill="#fff" stroke="#2f54b0" stroke-width="1.9"/><circle cx="1256.5" cy="645.4" r="2.9" fill="#fff" stroke="#2f54b0" stroke-width="1.9"/><circle cx="1262.4" cy="722.0" r="2.9" fill="#fff" stroke="#2f54b0" stroke-width="1.9"/><circle cx="1268.4" cy="746.1" r="2.9" fill="#fff" stroke="#2f54b0" stroke-width="1.9"/><circle cx="1274.3" cy="759.2" r="2.9" fill="#fff" stroke="#2f54b0" stroke-width="1.9"/><circle cx="1280.2" cy="778.1" r="2.9" fill="#fff" stroke="#2f54b0" stroke-width="1.9"/><circle cx="1286.1" cy="805.0" r="2.9" fill="#fff" stroke="#2f54b0" stroke-width="1.9"/><circle cx="1292.0" cy="819.2" r="2.9" fill="#fff" stroke="#2f54b0" stroke-width="1.9"/><circle cx="1298.0" cy="819.2" r="2.9" fill="#fff" stroke="#2f54b0" stroke-width="1.9"/><circle cx="1303.9" cy="837.0" r="2.9" fill="#fff" stroke="#2f54b0" stroke-width="1.9"/><circle cx="1309.8" cy="840.7" r="2.9" fill="#fff" stroke="#2f54b0" stroke-width="1.9"/><circle cx="1315.7" cy="852.3" r="2.9" fill="#fff" stroke="#2f54b0" stroke-width="1.9"/><circle cx="1321.6" cy="854.9" r="2.9" fill="#fff" stroke="#2f54b0" stroke-width="1.9"/><circle cx="1327.6" cy="858.3" r="2.9" fill="#fff" stroke="#2f54b0" stroke-width="1.9"/><circle cx="1333.5" cy="858.7" r="2.9" fill="#fff" stroke="#2f54b0" stroke-width="1.9"/><circle cx="1404.5" cy="858.9" r="2.9" fill="#fff" stroke="#2f54b0" stroke-width="1.9"/><circle cx="1410.4" cy="858.9" r="2.9" fill="#fff" stroke="#2f54b0" stroke-width="1.9"/><circle cx="1422.3" cy="858.3" r="2.9" fill="#fff" stroke="#2f54b0" stroke-width="1.9"/>
<rect x="1043" y="543.8" width="416.8" height="327.0" fill="none" stroke="#505050" stroke-width="2"/>
<line x1="1043" y1="870.8" x2="1050.5" y2="870.8" stroke="#505050" stroke-width="1.8"/>
<text x="1037.0" y="877.6" font-size="19.5" fill="#2e2e2e" text-anchor="end" textLength="11.8" lengthAdjust="spacingAndGlyphs" >0</text>
<line x1="1043" y1="833.6" x2="1048" y2="833.6" stroke="#505050" stroke-width="1.8"/>
<line x1="1043" y1="796.4" x2="1050.5" y2="796.4" stroke="#505050" stroke-width="1.8"/>
<text x="1037.0" y="803.2" font-size="19.5" fill="#2e2e2e" text-anchor="end" textLength="23.6" lengthAdjust="spacingAndGlyphs" >50</text>
<line x1="1043" y1="759.2" x2="1048" y2="759.2" stroke="#505050" stroke-width="1.8"/>
<line x1="1043" y1="722.0" x2="1050.5" y2="722.0" stroke="#505050" stroke-width="1.8"/>
<text x="1037.0" y="728.8" font-size="19.5" fill="#2e2e2e" text-anchor="end" textLength="35.400000000000006" lengthAdjust="spacingAndGlyphs" >100</text>
<line x1="1043" y1="684.8" x2="1048" y2="684.8" stroke="#505050" stroke-width="1.8"/>
<line x1="1043" y1="647.6" x2="1050.5" y2="647.6" stroke="#505050" stroke-width="1.8"/>
<text x="1037.0" y="654.4" font-size="19.5" fill="#2e2e2e" text-anchor="end" textLength="35.400000000000006" lengthAdjust="spacingAndGlyphs" >150</text>
<line x1="1043" y1="610.4" x2="1048" y2="610.4" stroke="#505050" stroke-width="1.8"/>
<line x1="1043" y1="573.2" x2="1050.5" y2="573.2" stroke="#505050" stroke-width="1.8"/>
<text x="1037.0" y="580.0" font-size="19.5" fill="#2e2e2e" text-anchor="end" textLength="35.400000000000006" lengthAdjust="spacingAndGlyphs" >200</text>
<line x1="1073.0" y1="870.8" x2="1073.0" y2="865.3" stroke="#505050" stroke-width="1.8"/>
<text x="1073.0" y="894.7" font-size="19.5" fill="#2e2e2e" text-anchor="middle" textLength="11.6" lengthAdjust="spacingAndGlyphs" >0</text>
<line x1="1102.6" y1="870.8" x2="1102.6" y2="867.3" stroke="#505050" stroke-width="1.8"/>
<line x1="1132.2" y1="870.8" x2="1132.2" y2="865.3" stroke="#505050" stroke-width="1.8"/>
<text x="1132.2" y="894.7" font-size="19.5" fill="#2e2e2e" text-anchor="middle" textLength="23.2" lengthAdjust="spacingAndGlyphs" >10</text>
<line x1="1161.8" y1="870.8" x2="1161.8" y2="867.3" stroke="#505050" stroke-width="1.8"/>
<line x1="1191.4" y1="870.8" x2="1191.4" y2="865.3" stroke="#505050" stroke-width="1.8"/>
<text x="1191.4" y="894.7" font-size="19.5" fill="#2e2e2e" text-anchor="middle" textLength="23.2" lengthAdjust="spacingAndGlyphs" >20</text>
<line x1="1221.0" y1="870.8" x2="1221.0" y2="867.3" stroke="#505050" stroke-width="1.8"/>
<line x1="1250.6" y1="870.8" x2="1250.6" y2="865.3" stroke="#505050" stroke-width="1.8"/>
<text x="1250.6" y="894.7" font-size="19.5" fill="#2e2e2e" text-anchor="middle" textLength="23.2" lengthAdjust="spacingAndGlyphs" >30</text>
<line x1="1280.2" y1="870.8" x2="1280.2" y2="867.3" stroke="#505050" stroke-width="1.8"/>
<line x1="1309.8" y1="870.8" x2="1309.8" y2="865.3" stroke="#505050" stroke-width="1.8"/>
<text x="1309.8" y="894.7" font-size="19.5" fill="#2e2e2e" text-anchor="middle" textLength="23.2" lengthAdjust="spacingAndGlyphs" >40</text>
<line x1="1339.4" y1="870.8" x2="1339.4" y2="867.3" stroke="#505050" stroke-width="1.8"/>
<line x1="1369.0" y1="870.8" x2="1369.0" y2="865.3" stroke="#505050" stroke-width="1.8"/>
<text x="1369.0" y="894.7" font-size="19.5" fill="#2e2e2e" text-anchor="middle" textLength="23.2" lengthAdjust="spacingAndGlyphs" >50</text>
<line x1="1398.6" y1="870.8" x2="1398.6" y2="867.3" stroke="#505050" stroke-width="1.8"/>
<line x1="1428.2" y1="870.8" x2="1428.2" y2="865.3" stroke="#505050" stroke-width="1.8"/>
<text x="1428.2" y="894.7" font-size="19.5" fill="#2e2e2e" text-anchor="middle" textLength="23.2" lengthAdjust="spacingAndGlyphs" >60</text>
<text x="0.0" y="0.0" font-size="24" fill="#2e2e2e" text-anchor="middle" textLength="110" lengthAdjust="spacingAndGlyphs" transform="translate(989,706.4) rotate(-90)">PSC (nA)</text>
<text x="1248.5" y="925.0" font-size="21" fill="#2e2e2e" text-anchor="middle" textLength="216.5" lengthAdjust="spacingAndGlyphs" ><tspan font-style="italic">N</tspan> (Number of spikes)</text>
<text x="1145.3" y="585.8" font-size="20" fill="#2e2e2e" text-anchor="middle" textLength="35.7" lengthAdjust="spacingAndGlyphs" >LTP</text>
<text x="1358.4" y="585.8" font-size="20" fill="#2e2e2e" text-anchor="middle" textLength="37.9" lengthAdjust="spacingAndGlyphs" >LTD</text>
<polyline points="1089,602.1 1114,602.1 1114,646.5 1138.6,646.5 1138.6,602.1 1164.2,602.1" fill="none" stroke="#333" stroke-width="1.6"/>
<line x1="1106.2" y1="606" x2="1106.2" y2="643" stroke="#333" stroke-width="1.3"/><path d="M1106.2,603.5 L1103.7,609 L1108.7,609 Z M1106.2,646 L1103.7,640.5 L1108.7,640.5 Z" fill="#333"/>
<line x1="1117" y1="625.5" x2="1136" y2="625.5" stroke="#333" stroke-width="1.3"/><path d="M1114.5,625.5 L1120,623 L1120,628 Z M1138.6,625.5 L1133,623 L1133,628 Z" fill="#333"/>
<text x="1054.9" y="634.9" font-size="20" fill="#2e2e2e" textLength="41.3" lengthAdjust="spacingAndGlyphs" >−4 V</text>
<text x="1095.0" y="666.2" font-size="20" fill="#2e2e2e" textLength="57" lengthAdjust="spacingAndGlyphs" >40 ms</text>
<polyline points="1338.6,629.2 1364.1,629.2 1364.1,610.8 1381.6,610.8 1381.6,629.2 1406.6,629.2" fill="none" stroke="#333" stroke-width="1.6"/>
<line x1="1358.3" y1="614" x2="1358.3" y2="626" stroke="#333" stroke-width="1.2"/><path d="M1358.3,611 L1356,615.5 L1360.6,615.5 Z M1358.3,629 L1356,624.5 L1360.6,624.5 Z" fill="#333"/>
<line x1="1367" y1="633.1" x2="1379" y2="633.1" stroke="#333" stroke-width="1.1"/><path d="M1365,633.1 L1369.5,631 L1369.5,635.2 Z M1381.1,633.1 L1376.6,631 L1376.6,635.2 Z" fill="#333"/>
<text x="1299.4" y="626.4" font-size="20.5" fill="#2e2e2e" textLength="48.6" lengthAdjust="spacingAndGlyphs" >0.5 V</text>
<text x="1350.5" y="656.1" font-size="20" fill="#2e2e2e" textLength="45.8" lengthAdjust="spacingAndGlyphs" >5 ms</text>
<circle cx="1318.1" cy="720" r="3.2" fill="#fff" stroke="#3b57a6" stroke-width="1.8"/>
<text x="1332.2" y="727.8" font-size="20" fill="#3b57a6" textLength="99" lengthAdjust="spacingAndGlyphs" >−40 V (<tspan font-style="italic">V</tspan><tspan font-size="12" dy="5">G</tspan><tspan dy="-5">)</tspan></text>
<circle cx="1318.1" cy="750" r="3.2" fill="#fff" stroke="#e03535" stroke-width="1.8"/>
<text x="1332.2" y="756.4" font-size="20" fill="#e03535" textLength="55" lengthAdjust="spacingAndGlyphs" >−20 V</text>
<circle cx="1318.1" cy="781.4" r="3.2" fill="#fff" stroke="#222" stroke-width="1.8"/>
<text x="1356.5" y="788.3" font-size="20" fill="#2e2e2e" textLength="30.7" lengthAdjust="spacingAndGlyphs" >0 V</text>
</svg></body></html>
